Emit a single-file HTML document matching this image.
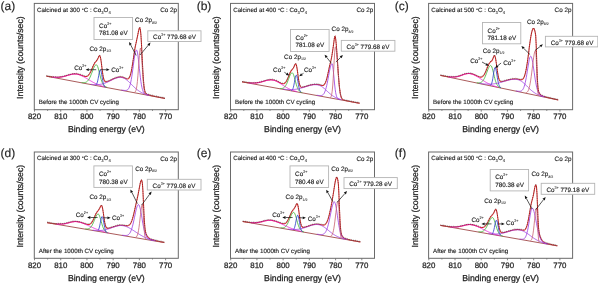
<!DOCTYPE html>
<html><head><meta charset="utf-8"><style>
html,body{margin:0;padding:0;background:#fff;width:598px;height:283px;overflow:hidden}
svg{position:absolute;left:0;top:0;will-change:transform;filter:blur(0.3px)}
text{text-rendering:geometricPrecision;font-family:"Liberation Sans",sans-serif;fill:#262626;stroke:#262626;stroke-width:0.15px}
.ss{fill:#1a1a1a;stroke:#1a1a1a;stroke-width:0.06px}
</style></head><body>
<svg width="598" height="283" viewBox="0 0 598 283">
<polyline points="46.4,76.13 46.9,76.21 47.4,76.30 47.9,76.38 48.4,76.46 48.9,76.54 49.4,76.62 49.9,76.69 50.4,76.76 50.9,76.83 51.4,76.90 51.9,76.96 52.4,77.02 52.9,77.07 53.4,77.12 53.9,77.17 54.4,77.20 54.9,77.24 55.4,77.26 55.9,77.28 56.5,77.29 57.0,77.29 57.5,77.29 58.0,77.28 58.5,77.26 59.0,77.23 59.5,77.19 60.0,77.14 60.5,77.08 61.0,77.01 61.5,76.93 62.0,76.84 62.5,76.75 63.0,76.64 63.5,76.53 64.0,76.40 64.5,76.27 65.0,76.14 65.5,76.00 66.0,75.85 66.5,75.70 67.0,75.55 67.5,75.39 68.0,75.24 68.5,75.08 69.0,74.93 69.5,74.79 70.0,74.65 70.5,74.51 71.0,74.39 71.5,74.28 72.0,74.18 72.5,74.09 73.0,74.02 73.5,73.96 74.0,73.92 74.5,73.90 75.0,73.89 75.5,73.91 76.0,73.95 76.6,74.01 77.1,74.08 77.6,74.18 78.1,74.29 78.6,74.41 79.1,74.55 79.6,74.70 80.1,74.86 80.6,75.03 81.1,75.21 81.6,75.40 82.1,75.59 82.6,75.77 83.1,75.95 83.6,76.12 84.1,76.27 84.6,76.39 85.1,76.48 85.6,76.51 86.1,76.50 86.6,76.41 87.1,76.23 87.6,75.97 88.1,75.60 88.6,75.11 89.1,74.51 89.6,73.78 90.1,72.94 90.6,71.99 91.1,70.93 91.6,69.81 92.1,68.64 92.6,67.45 93.1,66.28 93.6,65.17 94.1,64.17 94.6,63.28 95.1,62.54 95.6,61.90 96.2,61.29 96.7,60.61 97.2,59.90 97.7,59.05 98.2,57.99 98.7,56.84 99.2,55.92 99.7,55.70 100.2,56.56 100.7,58.70 101.2,61.99 101.7,65.98 102.2,70.10 102.7,73.83 103.2,76.83 103.7,79.01 104.2,80.43 104.7,81.27 105.2,81.69 105.7,81.86 106.2,81.87 106.7,81.80 107.2,81.67 107.7,81.50 108.2,81.31 108.7,81.11 109.2,80.89 109.7,80.67 110.2,80.43 110.7,80.19 111.2,79.95 111.7,79.71 112.2,79.47 112.7,79.23 113.2,79.00 113.7,78.77 114.2,78.55 114.7,78.34 115.2,78.14 115.8,77.96 116.3,77.78 116.8,77.63 117.3,77.49 117.8,77.37 118.3,77.26 118.8,77.18 119.3,77.12 119.8,77.09 120.3,77.07 120.8,77.08 121.3,77.12 121.8,77.18 122.3,77.26 122.8,77.37 123.3,77.52 123.8,77.69 124.3,77.89 124.8,78.11 125.3,78.33 125.8,78.55 126.3,78.75 126.8,78.90 127.3,78.98 127.8,78.94 128.3,78.75 128.8,78.35 129.3,77.69 129.8,76.72 130.3,75.37 130.8,73.62 131.3,71.46 131.8,68.88 132.3,65.93 132.8,62.69 133.3,59.28 133.8,55.83 134.3,52.49 134.8,49.37 135.3,46.55 135.9,44.00 136.4,41.59 136.9,39.19 137.4,36.89 137.9,34.48 138.4,31.92 138.9,29.53 139.4,27.90 139.9,27.83 140.4,29.97 140.9,34.86 141.4,42.73 141.9,52.54 142.4,62.82 142.9,72.21 143.4,79.83 143.9,85.40 144.4,89.11 144.9,91.39 145.4,92.72 145.9,93.49 146.4,93.94 146.9,94.23 147.4,94.46 147.9,94.64 148.4,94.81 148.9,94.97 149.4,95.11 149.9,95.25 150.4,95.39 150.9,95.52 151.4,95.64 151.9,95.77 152.4,95.89 152.9,96.00 153.4,96.12 153.9,96.23 154.4,96.34 154.9,96.44 155.5,96.55 156.0,96.65 156.5,96.76 157.0,96.86 157.5,96.96 158.0,97.06 158.5,97.17 159.0,97.27 159.5,97.36 160.0,97.46 160.5,97.56 161.0,97.66 161.5,97.76 162.0,97.86 162.5,97.95 163.0,98.05 163.5,98.15 164.0,98.25 164.5,98.34 165.0,98.44" fill="none" stroke="#e83434" stroke-width="1.05"/>
<line x1="46.40" y1="76.20" x2="165.00" y2="98.50" stroke="#a04848" stroke-width="0.9"/>
<polyline points="52.4,77.06 52.9,77.11 53.4,77.16 53.9,77.20 54.4,77.24 54.9,77.28 55.4,77.30 55.9,77.32 56.5,77.33 57.0,77.34 57.5,77.34 58.0,77.32 58.5,77.30 59.0,77.27 59.5,77.24 60.0,77.19 60.5,77.13 61.0,77.06 61.5,76.99 62.0,76.90 62.5,76.81 63.0,76.70 63.5,76.59 64.0,76.47 64.5,76.34 65.0,76.21 65.5,76.07 66.0,75.92 66.5,75.77 67.0,75.62 67.5,75.47 68.0,75.32 68.5,75.17 69.0,75.02 69.5,74.87 70.0,74.74 70.5,74.61 71.0,74.49 71.5,74.38 72.0,74.28 72.5,74.20 73.0,74.13 73.5,74.08 74.0,74.04 74.5,74.02 75.0,74.03 75.5,74.05 76.0,74.09 76.6,74.16 77.1,74.24 77.6,74.35 78.1,74.47 78.6,74.60 79.1,74.75 79.6,74.92 80.1,75.10 80.6,75.29 81.1,75.50 81.6,75.72 82.1,75.95 82.6,76.19 83.1,76.44 83.6,76.71 84.1,76.98 84.6,77.25 85.1,77.54 85.6,77.83 86.1,78.13 86.6,78.43 87.1,78.73 87.6,79.03 88.1,79.34 88.6,79.64 89.1,79.95 89.6,80.25 90.1,80.55 90.6,80.85 91.1,81.14 91.6,81.43 92.1,81.72 92.6,82.00 93.1,82.27 93.6,82.54 94.1,82.80 94.6,83.05 95.1,83.30 95.6,83.55 96.2,83.78 96.7,84.01 97.2,84.23 97.7,84.44 98.2,84.65 98.7,84.85 99.2,85.04 99.7,85.23 100.2,85.41 100.7,85.59 101.2,85.76 101.7,85.92 102.2,86.08 102.7,86.23 103.2,86.38 103.7,86.53 104.2,86.67 104.7,86.80 105.2,86.94 105.7,87.07 106.2,87.19" fill="none" stroke="#e818d8" stroke-width="0.8"/>
<polyline points="81.6,82.54 82.1,82.59 82.6,82.63 83.1,82.66 83.6,82.67 84.1,82.64 84.6,82.59 85.1,82.49 85.6,82.35 86.1,82.14 86.6,81.85 87.1,81.49 87.6,81.03 88.1,80.47 88.6,79.79 89.1,79.00 89.6,78.09 90.1,77.07 90.6,75.94 91.1,74.73 91.6,73.44 92.1,72.12 92.6,70.80 93.1,69.50 93.6,68.29 94.1,67.19 94.6,66.26 95.1,65.54 95.6,65.05 96.2,64.84 96.7,64.94 97.2,65.54 97.7,66.63 98.2,68.13 98.7,69.94 99.2,71.93 99.7,73.98 100.2,76.01 100.7,77.93 101.2,79.68 101.7,81.21 102.2,82.53 102.7,83.62 103.2,84.51 103.7,85.22 104.2,85.77 104.7,86.21 105.2,86.55 105.7,86.81 106.2,87.03 106.7,87.21 107.2,87.36" fill="none" stroke="#38b030" stroke-width="0.8"/>
<polyline points="95.6,85.07 96.2,84.72 96.7,84.01 97.2,82.78 97.7,80.92 98.2,78.46 98.7,75.63 99.2,72.87 99.7,70.74 100.2,69.75 100.7,70.16 101.2,71.91 101.7,74.59 102.2,77.63 102.7,80.53 103.2,82.92 103.7,84.68 104.2,85.85 104.7,86.57 105.2,86.99" fill="none" stroke="#2838c8" stroke-width="0.8"/>
<polyline points="90.6,84.26 91.1,84.32 91.6,84.38 92.1,84.43 92.6,84.48 93.1,84.52 93.6,84.56 94.1,84.59 94.6,84.61 95.1,84.63 95.6,84.64 96.2,84.65 96.7,84.65 97.2,84.63 97.7,84.61 98.2,84.58 98.7,84.55 99.2,84.50 99.7,84.44 100.2,84.37 100.7,84.29 101.2,84.20 101.7,84.09 102.2,83.98 102.7,83.85 103.2,83.71 103.7,83.56 104.2,83.40 104.7,83.23 105.2,83.05 105.7,82.86 106.2,82.65 106.7,82.44 107.2,82.22 107.7,81.99 108.2,81.75 108.7,81.51 109.2,81.26 109.7,81.01 110.2,80.76 110.7,80.50 111.2,80.25 111.7,79.99 112.2,79.74 112.7,79.49 113.2,79.25 113.7,79.02 114.2,78.80 114.7,78.58 115.2,78.38 115.8,78.19 116.3,78.02 116.8,77.87 117.3,77.73 117.8,77.61 118.3,77.52 118.8,77.44 119.3,77.39 119.8,77.37 120.3,77.36 120.8,77.38 121.3,77.43 121.8,77.51 122.3,77.61 122.8,77.74 123.3,77.92 123.8,78.12 124.3,78.37 124.8,78.64 125.3,78.95 125.8,79.28 126.3,79.65 126.8,80.04 127.3,80.45 127.8,80.88 128.3,81.33 128.8,81.80 129.3,82.28 129.8,82.77 130.3,83.27 130.8,83.78 131.3,84.28 131.8,84.79 132.3,85.30 132.8,85.80 133.3,86.29 133.8,86.78 134.3,87.26 134.8,87.73 135.3,88.19 135.9,88.63 136.4,89.06 136.9,89.47 137.4,89.87 137.9,90.25 138.4,90.62 138.9,90.97 139.4,91.30 139.9,91.62 140.4,91.92 140.9,92.21 141.4,92.48 141.9,92.74 142.4,92.99 142.9,93.22 143.4,93.44 143.9,93.65 144.4,93.84 144.9,94.03 145.4,94.21 145.9,94.38 146.4,94.54 146.9,94.70 147.4,94.84 147.9,94.98 148.4,95.12" fill="none" stroke="#9a38e0" stroke-width="0.8"/>
<polyline points="121.3,90.01 121.8,90.09 122.3,90.17 122.8,90.24 123.3,90.30 123.8,90.36 124.3,90.41 124.8,90.44 125.3,90.45 125.8,90.43 126.3,90.36 126.8,90.21 127.3,89.97 127.8,89.60 128.3,89.05 128.8,88.28 129.3,87.23 129.8,85.85 130.3,84.11 130.8,81.95 131.3,79.37 131.8,76.37 132.3,73.02 132.8,69.38 133.3,65.60 133.8,61.82 134.3,58.24 134.8,55.07 135.3,52.53 135.9,50.79 136.4,50.02 136.9,50.37 137.4,52.16 137.9,55.22 138.4,59.22 138.9,63.80 139.4,68.60 139.9,73.30 140.4,77.64 140.9,81.46 141.4,84.68 141.9,87.29 142.4,89.32 142.9,90.86 143.4,91.99 143.9,92.80 144.4,93.39 144.9,93.80 145.4,94.11 145.9,94.34 146.4,94.53 146.9,94.69 147.4,94.83 147.9,94.96 148.4,95.08 148.9,95.20 149.4,95.32" fill="none" stroke="#9a38e0" stroke-width="0.8"/>
<polyline points="134.3,92.48 134.8,92.25 135.3,91.71 135.9,90.64 136.4,88.76 136.9,85.78 137.4,81.48 137.9,75.82 138.4,69.09 138.9,61.94 139.4,55.38 139.9,50.48 140.4,48.17 140.9,49.13 141.4,53.70 141.9,60.83 142.4,69.02 142.9,76.83 143.4,83.29 143.9,88.03 144.4,91.14 144.9,93.01 145.4,94.05 145.9,94.59" fill="none" stroke="#c86070" stroke-width="0.8"/>
<polyline points="46.4,75.37 46.9,75.70 47.4,75.95 47.9,75.77 48.4,75.85 48.9,75.95 49.4,76.17 49.9,76.34 50.4,76.15 50.9,76.35 51.4,76.58 51.9,76.62 52.4,76.41 52.9,76.28 53.4,76.61 53.9,76.68 54.4,76.59 54.9,76.56 55.4,76.62 55.9,76.59 56.5,76.80 57.0,76.93 57.5,76.97 58.0,76.62 58.5,76.85 59.0,76.81 59.5,76.74 60.0,76.45 60.5,76.58 61.0,76.56 61.5,76.51 62.0,76.54 62.5,76.21 63.0,75.85 63.5,76.09 64.0,76.02 64.5,75.64 65.0,75.71 65.5,75.67 66.0,75.52 66.5,75.27 67.0,75.12 67.5,74.67 68.0,74.91 68.5,74.30 69.0,74.31 69.5,74.18 70.0,74.09 70.5,74.20 71.0,73.86 71.5,73.87 72.0,73.75 72.5,73.76 73.0,73.68 73.5,73.65 74.0,73.17 74.5,73.49 75.0,73.36 75.5,73.59 76.0,73.64 76.6,73.32 77.1,73.72 77.6,73.39 78.1,73.95 78.6,73.99 79.1,73.98 79.6,73.94 80.1,74.42 80.6,74.29 81.1,74.57 81.6,74.92 82.1,74.98 82.6,75.04 83.1,75.29 83.6,75.44 84.1,75.94 84.6,75.76 85.1,76.02 85.6,76.14 86.1,75.73 86.6,76.01 87.1,75.76 87.6,75.57 88.1,74.86 88.6,74.36 89.1,74.12 89.6,73.28 90.1,72.19 90.6,71.55 91.1,70.44 91.6,69.25 92.1,68.19 92.6,66.78 93.1,65.65 93.6,64.65 94.1,63.60 94.6,62.53 95.1,61.76 95.6,61.31 96.2,60.93 96.7,60.21 97.2,59.55 97.7,58.35 98.2,57.52 98.7,56.05 99.2,55.43 99.7,55.21 100.2,55.91 100.7,58.34 101.2,61.31 101.7,65.32 102.2,69.70 102.7,73.40 103.2,76.31 103.7,78.23 104.2,79.89 104.7,80.65 105.2,81.27 105.7,81.15 106.2,81.26 106.7,81.25 107.2,81.30 107.7,80.80 108.2,80.91 108.7,80.73 109.2,80.23 109.7,80.17 110.2,79.68 110.7,79.63 111.2,79.51 111.7,79.20 112.2,78.75 112.7,78.57 113.2,78.66 113.7,78.42 114.2,78.09 114.7,78.01 115.2,77.52 115.8,77.17 116.3,77.26 116.8,76.94 117.3,77.01 117.8,76.58 118.3,76.52 118.8,76.83 119.3,76.34 119.8,76.40 120.3,76.37 120.8,76.36 121.3,76.81 121.8,76.66 122.3,76.47 122.8,77.01 123.3,76.80 123.8,76.95 124.3,77.37 124.8,77.73 125.3,77.80 125.8,77.99 126.3,78.34 126.8,78.31 127.3,78.36 127.8,78.30 128.3,78.21 128.8,77.58 129.3,77.37 129.8,76.07 130.3,74.62 130.8,73.04 131.3,70.85 131.8,68.13 132.3,65.27 132.8,62.02 133.3,58.94 133.8,55.48 134.3,51.84 134.8,48.68 135.3,45.89 135.9,43.22 136.4,40.91 136.9,38.63 137.4,36.46 137.9,34.00 138.4,31.14 138.9,29.09 139.4,27.59 139.9,27.24 140.4,29.67 140.9,34.12 141.4,42.12 141.9,52.09 142.4,62.45 142.9,71.82 143.4,79.03 143.9,85.08 144.4,88.61 144.9,90.84 145.4,92.38 145.9,93.16 146.4,93.34 146.9,93.77 147.4,93.85 147.9,94.01 148.4,94.18 148.9,94.20 149.4,94.79 149.9,94.55 150.4,94.85 150.9,94.81 151.4,95.30 151.9,95.05 152.4,95.21 152.9,95.23 153.4,95.59 153.9,95.81 154.4,96.02 154.9,96.07 155.5,95.78 156.0,96.15 156.5,95.99 157.0,96.45 157.5,96.34 158.0,96.58 158.5,96.75 159.0,96.68 159.5,96.71 160.0,96.78 160.5,97.05 161.0,97.26 161.5,96.99 162.0,97.16 162.5,97.34 163.0,97.41 163.5,97.39 164.0,97.71 164.5,97.98 165.0,97.92" fill="none" stroke="#1a1a1a" stroke-width="0.6" stroke-dasharray="1.4 0.9" opacity="0.75"/>
<rect x="34.30" y="3.40" width="144.0" height="106.3" fill="none" stroke="#6a6a6a" stroke-width="1"/>
<line x1="34.50" y1="109.70" x2="34.50" y2="111.70" stroke="#6a6a6a" stroke-width="0.8"/>
<text x="34.50" y="119.40" font-size="7.9" text-anchor="middle" style="stroke-width:0.25px">820</text>
<line x1="47.61" y1="109.70" x2="47.61" y2="110.90" stroke="#6a6a6a" stroke-width="0.8"/>
<line x1="60.72" y1="109.70" x2="60.72" y2="111.70" stroke="#6a6a6a" stroke-width="0.8"/>
<text x="60.72" y="119.40" font-size="7.9" text-anchor="middle" style="stroke-width:0.25px">810</text>
<line x1="73.83" y1="109.70" x2="73.83" y2="110.90" stroke="#6a6a6a" stroke-width="0.8"/>
<line x1="86.94" y1="109.70" x2="86.94" y2="111.70" stroke="#6a6a6a" stroke-width="0.8"/>
<text x="86.94" y="119.40" font-size="7.9" text-anchor="middle" style="stroke-width:0.25px">800</text>
<line x1="100.05" y1="109.70" x2="100.05" y2="110.90" stroke="#6a6a6a" stroke-width="0.8"/>
<line x1="113.16" y1="109.70" x2="113.16" y2="111.70" stroke="#6a6a6a" stroke-width="0.8"/>
<text x="113.16" y="119.40" font-size="7.9" text-anchor="middle" style="stroke-width:0.25px">790</text>
<line x1="126.27" y1="109.70" x2="126.27" y2="110.90" stroke="#6a6a6a" stroke-width="0.8"/>
<line x1="139.38" y1="109.70" x2="139.38" y2="111.70" stroke="#6a6a6a" stroke-width="0.8"/>
<text x="139.38" y="119.40" font-size="7.9" text-anchor="middle" style="stroke-width:0.25px">780</text>
<line x1="152.49" y1="109.70" x2="152.49" y2="110.90" stroke="#6a6a6a" stroke-width="0.8"/>
<line x1="165.60" y1="109.70" x2="165.60" y2="111.70" stroke="#6a6a6a" stroke-width="0.8"/>
<text x="165.60" y="119.40" font-size="7.9" text-anchor="middle" style="stroke-width:0.25px">770</text>
<line x1="96.20" y1="69.70" x2="88.80" y2="69.70" stroke="#111" stroke-width="0.7"/>
<polygon points="85.60,69.70 88.80,68.30 88.80,71.10" fill="#111"/>
<line x1="100.40" y1="69.70" x2="106.40" y2="69.70" stroke="#111" stroke-width="0.7"/>
<polygon points="109.60,69.70 106.40,71.10 106.40,68.30" fill="#111"/>
<line x1="136.20" y1="55.50" x2="130.58" y2="44.74" stroke="#111" stroke-width="0.7"/>
<polygon points="129.10,41.90 131.82,44.09 129.34,45.38" fill="#111"/>
<line x1="140.00" y1="55.00" x2="148.43" y2="45.04" stroke="#111" stroke-width="0.7"/>
<polygon points="150.50,42.60 149.50,45.95 147.36,44.14" fill="#111"/>
<rect x="94.00" y="17.50" width="38.60" height="22.00" fill="#fff" stroke="#b4b4b4" stroke-width="0.9"/>
<rect x="147.80" y="30.80" width="53.20" height="10.70" fill="#fff" stroke="#b4b4b4" stroke-width="0.9"/>
<polyline points="242.1,81.84 242.6,81.93 243.1,82.01 243.6,82.09 244.1,82.17 244.6,82.25 245.1,82.33 245.6,82.40 246.1,82.47 246.6,82.54 247.1,82.61 247.6,82.68 248.1,82.74 248.6,82.79 249.1,82.85 249.6,82.89 250.1,82.94 250.6,82.98 251.1,83.01 251.6,83.03 252.1,83.06 252.6,83.07 253.1,83.07 253.6,83.07 254.0,83.06 254.5,83.05 255.0,83.02 255.5,82.98 256.0,82.94 256.5,82.89 257.0,82.83 257.5,82.75 258.0,82.67 258.5,82.58 259.0,82.49 259.5,82.38 260.0,82.27 260.5,82.14 261.0,82.02 261.5,81.88 262.0,81.75 262.5,81.60 263.0,81.46 263.5,81.31 264.0,81.16 264.5,81.02 265.0,80.87 265.5,80.73 266.0,80.60 266.5,80.47 267.0,80.35 267.5,80.24 268.0,80.14 268.5,80.05 269.0,79.98 269.5,79.92 270.0,79.87 270.5,79.85 271.0,79.84 271.5,79.85 272.0,79.88 272.5,79.92 273.0,79.99 273.5,80.08 274.0,80.19 274.5,80.32 275.0,80.47 275.5,80.63 276.0,80.82 276.5,81.03 277.0,81.25 277.4,81.48 277.9,81.72 278.4,81.98 278.9,82.24 279.4,82.50 279.9,82.76 280.4,83.00 280.9,83.24 281.4,83.44 281.9,83.61 282.4,83.73 282.9,83.80 283.4,83.78 283.9,83.67 284.4,83.45 284.9,83.11 285.4,82.63 285.9,82.01 286.4,81.24 286.9,80.33 287.4,79.29 287.9,78.14 288.4,76.92 288.9,75.67 289.4,74.44 289.9,73.27 290.4,72.23 290.9,71.33 291.4,70.58 291.9,69.95 292.4,69.35 292.9,68.76 293.4,68.05 293.9,67.10 294.4,65.93 294.9,64.75 295.4,63.95 295.9,64.00 296.4,65.20 296.9,67.61 297.4,70.95 297.9,74.73 298.4,78.41 298.9,81.55 299.4,83.94 299.9,85.58 300.4,86.58 300.9,87.12 301.3,87.36 301.8,87.42 302.3,87.38 302.8,87.29 303.3,87.17 303.8,87.04 304.3,86.90 304.8,86.75 305.3,86.60 305.8,86.44 306.3,86.29 306.8,86.14 307.3,85.98 307.8,85.83 308.3,85.68 308.8,85.54 309.3,85.40 309.8,85.27 310.3,85.15 310.8,85.03 311.3,84.92 311.8,84.82 312.3,84.74 312.8,84.66 313.3,84.59 313.8,84.54 314.3,84.50 314.8,84.47 315.3,84.46 315.8,84.46 316.3,84.47 316.8,84.50 317.3,84.54 317.8,84.59 318.3,84.65 318.8,84.74 319.3,84.86 319.8,84.99 320.3,85.13 320.8,85.28 321.3,85.41 321.8,85.51 322.3,85.57 322.8,85.54 323.3,85.42 323.8,85.16 324.3,84.72 324.7,84.09 325.2,83.22 325.7,82.09 326.2,80.70 326.7,79.03 327.2,77.11 327.7,74.97 328.2,72.68 328.7,70.31 329.2,67.95 329.7,65.67 330.2,63.53 330.7,61.51 331.2,59.45 331.7,57.03 332.2,53.85 332.7,50.60 333.2,47.26 333.7,43.50 334.2,39.67 334.7,36.83 335.2,36.37 335.7,39.20 336.2,43.95 336.7,50.07 337.2,57.18 337.7,64.74 338.2,72.16 338.7,78.95 339.2,84.74 339.7,89.39 340.2,92.91 340.7,95.44 341.2,97.17 341.7,98.31 342.2,99.05 342.7,99.52 343.2,99.83 343.7,100.05 344.2,100.21 344.7,100.35 345.2,100.47 345.7,100.59 346.2,100.70 346.7,100.81 347.2,100.91 347.7,101.01 348.1,101.11 348.6,101.21 349.1,101.31 349.6,101.41 350.1,101.51 350.6,101.60 351.1,101.70 351.6,101.79 352.1,101.89 352.6,101.98 353.1,102.07 353.6,102.17 354.1,102.26 354.6,102.35 355.1,102.44 355.6,102.54 356.1,102.63 356.6,102.72 357.1,102.81 357.6,102.91 358.1,103.00 358.6,103.09 359.1,103.18 359.6,103.27" fill="none" stroke="#e83434" stroke-width="1.05"/>
<line x1="242.10" y1="81.90" x2="359.60" y2="103.30" stroke="#a04848" stroke-width="0.9"/>
<polyline points="248.6,82.82 249.1,82.87 249.6,82.92 250.1,82.97 250.6,83.01 251.1,83.04 251.6,83.07 252.1,83.09 252.6,83.10 253.1,83.11 253.6,83.11 254.0,83.10 254.5,83.08 255.0,83.06 255.5,83.02 256.0,82.98 256.5,82.93 257.0,82.86 257.5,82.79 258.0,82.71 258.5,82.63 259.0,82.53 259.5,82.42 260.0,82.31 260.5,82.19 261.0,82.07 261.5,81.93 262.0,81.80 262.5,81.66 263.0,81.51 263.5,81.37 264.0,81.22 264.5,81.08 265.0,80.94 265.5,80.80 266.0,80.67 266.5,80.54 267.0,80.42 267.5,80.31 268.0,80.22 268.5,80.13 269.0,80.06 269.5,80.01 270.0,79.97 270.5,79.95 271.0,79.94 271.5,79.96 272.0,79.99 272.5,80.05 273.0,80.12 273.5,80.22 274.0,80.34 274.5,80.48 275.0,80.64 275.5,80.82 276.0,81.02 276.5,81.24 277.0,81.48 277.4,81.73 277.9,82.00 278.4,82.28 278.9,82.58 279.4,82.88 279.9,83.20 280.4,83.52 280.9,83.85 281.4,84.18 281.9,84.51 282.4,84.85 282.9,85.18 283.4,85.52 283.9,85.85 284.4,86.17 284.9,86.49 285.4,86.80 285.9,87.11 286.4,87.41 286.9,87.70 287.4,87.98 287.9,88.25 288.4,88.51 288.9,88.76 289.4,89.01 289.9,89.24 290.4,89.46 290.9,89.67 291.4,89.88 291.9,90.07 292.4,90.26 292.9,90.44 293.4,90.61 293.9,90.77 294.4,90.93 294.9,91.08 295.4,91.22 295.9,91.36 296.4,91.49 296.9,91.62" fill="none" stroke="#e818d8" stroke-width="0.8"/>
<polyline points="279.9,88.50 280.4,88.54 280.9,88.55 281.4,88.53 281.9,88.48 282.4,88.39 282.9,88.23 283.4,88.00 283.9,87.68 284.4,87.27 284.9,86.73 285.4,86.07 285.9,85.28 286.4,84.35 286.9,83.29 287.4,82.12 287.9,80.85 288.4,79.53 288.9,78.19 289.4,76.88 289.9,75.67 290.4,74.60 290.9,73.74 291.4,73.14 291.9,72.85 292.4,72.88 292.9,73.40 293.4,74.39 293.9,75.77 294.4,77.44 294.9,79.28 295.4,81.17 295.9,83.01 296.4,84.74 296.9,86.29 297.4,87.64 297.9,88.77 298.4,89.69 298.9,90.43 299.4,91.01 299.9,91.46 300.4,91.81 300.9,92.08 301.3,92.30 301.8,92.47 302.3,92.62" fill="none" stroke="#38b030" stroke-width="0.8"/>
<polyline points="291.4,90.60 291.9,90.36 292.4,89.82 292.9,88.84 293.4,87.28 293.9,85.10 294.4,82.42 294.9,79.58 295.4,77.08 295.9,75.48 296.4,75.18 296.9,76.26 297.4,78.50 297.9,81.39 298.4,84.40 298.9,87.07 299.4,89.17 299.9,90.64 300.4,91.60 300.9,92.17" fill="none" stroke="#2838c8" stroke-width="0.8"/>
<polyline points="282.9,89.08 283.4,89.14 283.9,89.20 284.4,89.26 284.9,89.31 285.4,89.36 285.9,89.41 286.4,89.45 286.9,89.49 287.4,89.53 287.9,89.56 288.4,89.58 288.9,89.60 289.4,89.62 289.9,89.63 290.4,89.63 290.9,89.63 291.4,89.63 291.9,89.61 292.4,89.59 292.9,89.57 293.4,89.54 293.9,89.50 294.4,89.45 294.9,89.40 295.4,89.34 295.9,89.27 296.4,89.19 296.9,89.11 297.4,89.02 297.9,88.92 298.4,88.82 298.9,88.71 299.4,88.59 299.9,88.47 300.4,88.34 300.9,88.21 301.3,88.07 301.8,87.92 302.3,87.77 302.8,87.62 303.3,87.47 303.8,87.31 304.3,87.15 304.8,86.98 305.3,86.82 305.8,86.66 306.3,86.50 306.8,86.34 307.3,86.18 307.8,86.03 308.3,85.88 308.8,85.74 309.3,85.60 309.8,85.47 310.3,85.34 310.8,85.23 311.3,85.12 311.8,85.03 312.3,84.94 312.8,84.87 313.3,84.81 313.8,84.76 314.3,84.73 314.8,84.71 315.3,84.71 315.8,84.72 316.3,84.74 316.8,84.78 317.3,84.84 317.8,84.92 318.3,85.01 318.8,85.13 319.3,85.29 319.8,85.48 320.3,85.71 320.8,85.97 321.3,86.25 321.8,86.57 322.3,86.91 322.8,87.28 323.3,87.67 323.8,88.08 324.3,88.50 324.7,88.94 325.2,89.39 325.7,89.84 326.2,90.31 326.7,90.77 327.2,91.23 327.7,91.70 328.2,92.15 328.7,92.60 329.2,93.05 329.7,93.48 330.2,93.90 330.7,94.31 331.2,94.70 331.7,95.08 332.2,95.45 332.7,95.80 333.2,96.13 333.7,96.45 334.2,96.75 334.7,97.04 335.2,97.31 335.7,97.57 336.2,97.81 336.7,98.04 337.2,98.26 337.7,98.47 338.2,98.66 338.7,98.85 339.2,99.02 339.7,99.18 340.2,99.34 340.7,99.49 341.2,99.63 341.7,99.77" fill="none" stroke="#9a38e0" stroke-width="0.8"/>
<polyline points="316.8,95.25 317.3,95.32 317.8,95.39 318.3,95.45 318.8,95.51 319.3,95.55 319.8,95.58 320.3,95.59 320.8,95.57 321.3,95.50 321.8,95.38 322.3,95.18 322.8,94.88 323.3,94.45 323.8,93.87 324.3,93.11 324.7,92.12 325.2,90.89 325.7,89.40 326.2,87.63 326.7,85.59 327.2,83.30 327.7,80.79 328.2,78.14 328.7,75.41 329.2,72.72 329.7,70.17 330.2,67.90 330.7,66.02 331.2,64.66 331.7,63.89 332.2,63.83 332.7,65.63 333.2,69.43 333.7,74.47 334.2,79.91 334.7,85.04 335.2,89.38 335.7,92.75 336.2,95.16 336.7,96.77 337.2,97.79 337.7,98.41 338.2,98.80 338.7,99.05 339.2,99.24 339.7,99.38 340.2,99.51" fill="none" stroke="#9a38e0" stroke-width="0.8"/>
<polyline points="330.2,97.64 330.7,97.27 331.2,96.36 331.7,94.51 332.2,91.21 332.7,85.99 333.2,78.70 333.7,69.76 334.2,60.36 334.7,52.29 335.2,47.40 335.7,46.79 336.2,49.07 336.7,53.53 337.2,59.58 337.7,66.49 338.2,73.51 338.7,80.04 339.2,85.66 339.7,90.18 340.2,93.60 340.7,96.04 341.2,97.70 341.7,98.77 342.2,99.45 342.7,99.87" fill="none" stroke="#c86070" stroke-width="0.8"/>
<polyline points="242.1,81.36 242.6,81.53 243.1,81.33 243.6,81.33 244.1,81.70 244.6,81.72 245.1,81.64 245.6,81.65 246.1,82.04 246.6,81.79 247.1,82.28 247.6,82.35 248.1,82.28 248.6,82.27 249.1,82.10 249.6,82.49 250.1,82.17 250.6,82.62 251.1,82.62 251.6,82.61 252.1,82.59 252.6,82.66 253.1,82.48 253.6,82.77 254.0,82.52 254.5,82.32 255.0,82.49 255.5,82.66 256.0,82.56 256.5,82.26 257.0,82.25 257.5,82.41 258.0,82.27 258.5,81.86 259.0,81.88 259.5,81.99 260.0,81.92 260.5,81.60 261.0,81.47 261.5,81.18 262.0,81.30 262.5,81.25 263.0,81.14 263.5,80.87 264.0,80.66 264.5,80.62 265.0,80.43 265.5,80.34 266.0,79.99 266.5,79.71 267.0,80.02 267.5,79.57 268.0,79.70 268.5,79.53 269.0,79.19 269.5,79.21 270.0,79.41 270.5,79.32 271.0,79.48 271.5,79.34 272.0,79.38 272.5,79.13 273.0,79.35 273.5,79.63 274.0,79.78 274.5,79.71 275.0,79.91 275.5,80.10 276.0,80.07 276.5,80.26 277.0,80.48 277.4,81.07 277.9,81.28 278.4,81.40 278.9,81.58 279.4,81.88 279.9,82.38 280.4,82.34 280.9,82.91 281.4,82.99 281.9,82.94 282.4,83.11 282.9,83.30 283.4,83.43 283.9,83.21 284.4,82.76 284.9,82.44 285.4,82.05 285.9,81.56 286.4,80.49 286.9,80.00 287.4,78.59 287.9,77.60 288.4,76.60 288.9,75.33 289.4,73.88 289.9,72.56 290.4,71.64 290.9,70.71 291.4,70.20 291.9,69.26 292.4,68.64 292.9,67.99 293.4,67.66 293.9,66.74 294.4,65.15 294.9,64.04 295.4,63.47 295.9,63.52 296.4,64.51 296.9,67.29 297.4,70.36 297.9,74.19 298.4,77.82 298.9,81.16 299.4,83.36 299.9,85.11 300.4,86.12 300.9,86.51 301.3,86.93 301.8,87.01 302.3,86.65 302.8,86.80 303.3,86.54 303.8,86.42 304.3,86.48 304.8,86.29 305.3,86.02 305.8,85.86 306.3,85.94 306.8,85.75 307.3,85.20 307.8,85.50 308.3,85.20 308.8,85.24 309.3,85.08 309.8,84.52 310.3,84.39 310.8,84.61 311.3,84.54 311.8,84.31 312.3,84.34 312.8,84.24 313.3,84.00 313.8,84.13 314.3,83.87 314.8,83.75 315.3,83.86 315.8,83.69 316.3,83.72 316.8,83.86 317.3,83.79 317.8,84.24 318.3,84.03 318.8,84.19 319.3,84.33 319.8,84.28 320.3,84.68 320.8,84.87 321.3,84.66 321.8,84.99 322.3,85.01 322.8,85.16 323.3,84.89 323.8,84.71 324.3,83.97 324.7,83.35 325.2,82.64 325.7,81.51 326.2,80.00 326.7,78.54 327.2,76.71 327.7,74.66 328.2,72.15 328.7,69.90 329.2,67.15 329.7,65.03 330.2,63.19 330.7,61.10 331.2,58.91 331.7,56.59 332.2,53.45 332.7,49.85 333.2,46.68 333.7,42.95 334.2,39.08 334.7,36.16 335.2,36.06 335.7,38.71 336.2,43.39 336.7,49.70 337.2,56.42 337.7,64.03 338.2,71.75 338.7,78.19 339.2,84.11 339.7,88.95 340.2,92.24 340.7,94.74 341.2,96.52 341.7,97.72 342.2,98.55 342.7,99.04 343.2,99.42 343.7,99.63 344.2,99.56 344.7,99.95 345.2,99.79 345.7,99.84 346.2,100.01 346.7,100.25 347.2,100.28 347.7,100.33 348.1,100.44 348.6,100.55 349.1,100.74 349.6,100.72 350.1,100.75 350.6,100.84 351.1,101.03 351.6,101.12 352.1,101.26 352.6,101.39 353.1,101.29 353.6,101.66 354.1,101.65 354.6,101.67 355.1,101.69 355.6,102.02 356.1,102.09 356.6,102.00 357.1,102.45 357.6,102.24 358.1,102.29 358.6,102.29 359.1,102.45 359.6,102.67" fill="none" stroke="#1a1a1a" stroke-width="0.6" stroke-dasharray="1.4 0.9" opacity="0.75"/>
<rect x="230.50" y="3.40" width="144.0" height="106.3" fill="none" stroke="#6a6a6a" stroke-width="1"/>
<line x1="230.70" y1="109.70" x2="230.70" y2="111.70" stroke="#6a6a6a" stroke-width="0.8"/>
<text x="230.70" y="119.40" font-size="7.9" text-anchor="middle" style="stroke-width:0.25px">820</text>
<line x1="243.81" y1="109.70" x2="243.81" y2="110.90" stroke="#6a6a6a" stroke-width="0.8"/>
<line x1="256.92" y1="109.70" x2="256.92" y2="111.70" stroke="#6a6a6a" stroke-width="0.8"/>
<text x="256.92" y="119.40" font-size="7.9" text-anchor="middle" style="stroke-width:0.25px">810</text>
<line x1="270.03" y1="109.70" x2="270.03" y2="110.90" stroke="#6a6a6a" stroke-width="0.8"/>
<line x1="283.14" y1="109.70" x2="283.14" y2="111.70" stroke="#6a6a6a" stroke-width="0.8"/>
<text x="283.14" y="119.40" font-size="7.9" text-anchor="middle" style="stroke-width:0.25px">800</text>
<line x1="296.25" y1="109.70" x2="296.25" y2="110.90" stroke="#6a6a6a" stroke-width="0.8"/>
<line x1="309.36" y1="109.70" x2="309.36" y2="111.70" stroke="#6a6a6a" stroke-width="0.8"/>
<text x="309.36" y="119.40" font-size="7.9" text-anchor="middle" style="stroke-width:0.25px">790</text>
<line x1="322.47" y1="109.70" x2="322.47" y2="110.90" stroke="#6a6a6a" stroke-width="0.8"/>
<line x1="335.58" y1="109.70" x2="335.58" y2="111.70" stroke="#6a6a6a" stroke-width="0.8"/>
<text x="335.58" y="119.40" font-size="7.9" text-anchor="middle" style="stroke-width:0.25px">780</text>
<line x1="348.69" y1="109.70" x2="348.69" y2="110.90" stroke="#6a6a6a" stroke-width="0.8"/>
<line x1="361.80" y1="109.70" x2="361.80" y2="111.70" stroke="#6a6a6a" stroke-width="0.8"/>
<text x="361.80" y="119.40" font-size="7.9" text-anchor="middle" style="stroke-width:0.25px">770</text>
<line x1="284.40" y1="72.30" x2="286.62" y2="73.75" stroke="#111" stroke-width="0.7"/>
<polygon points="289.30,75.50 285.86,74.92 287.39,72.58" fill="#111"/>
<line x1="303.50" y1="73.30" x2="301.85" y2="74.41" stroke="#111" stroke-width="0.7"/>
<polygon points="299.20,76.20 301.07,73.25 302.64,75.57" fill="#111"/>
<line x1="331.30" y1="63.20" x2="326.58" y2="57.21" stroke="#111" stroke-width="0.7"/>
<polygon points="324.60,54.70 327.68,56.35 325.48,58.08" fill="#111"/>
<line x1="336.00" y1="62.10" x2="340.67" y2="57.29" stroke="#111" stroke-width="0.7"/>
<polygon points="342.90,55.00 341.67,58.27 339.67,56.32" fill="#111"/>
<rect x="290.50" y="29.50" width="38.60" height="22.00" fill="#fff" stroke="#b4b4b4" stroke-width="0.9"/>
<rect x="341.30" y="40.40" width="53.60" height="10.80" fill="#fff" stroke="#b4b4b4" stroke-width="0.9"/>
<polyline points="440.4,75.36 440.9,75.46 441.4,75.56 441.9,75.66 442.4,75.76 442.9,75.85 443.4,75.95 443.9,76.04 444.4,76.14 444.9,76.23 445.4,76.32 445.9,76.40 446.4,76.48 446.9,76.56 447.4,76.64 447.9,76.71 448.4,76.78 448.9,76.84 449.4,76.90 449.9,76.94 450.4,76.99 450.9,77.02 451.4,77.05 451.9,77.07 452.4,77.08 452.9,77.07 453.4,77.06 453.9,77.04 454.4,77.01 454.9,76.96 455.4,76.90 455.9,76.83 456.4,76.75 456.9,76.65 457.4,76.55 457.9,76.43 458.4,76.30 458.9,76.16 459.4,76.01 459.9,75.85 460.4,75.68 460.9,75.51 461.4,75.33 461.9,75.15 462.4,74.96 462.9,74.78 463.4,74.60 463.9,74.43 464.4,74.26 464.9,74.10 465.4,73.96 465.9,73.82 466.4,73.71 466.9,73.61 467.4,73.53 467.9,73.47 468.4,73.44 468.9,73.42 469.4,73.44 469.9,73.48 470.3,73.55 470.8,73.64 471.3,73.75 471.8,73.88 472.3,74.02 472.8,74.18 473.3,74.36 473.8,74.55 474.3,74.75 474.8,74.97 475.3,75.20 475.8,75.43 476.3,75.67 476.8,75.91 477.3,76.15 477.8,76.38 478.3,76.59 478.8,76.79 479.3,76.96 479.8,77.09 480.3,77.17 480.8,77.18 481.3,77.12 481.8,76.97 482.3,76.72 482.8,76.35 483.3,75.85 483.8,75.23 484.3,74.46 484.8,73.57 485.3,72.55 485.8,71.43 486.3,70.23 486.8,68.98 487.3,67.72 487.8,66.49 488.3,65.34 488.8,64.32 489.3,63.45 489.8,62.75 490.3,62.19 490.8,61.70 491.3,61.26 491.8,60.82 492.3,60.15 492.8,59.11 493.3,57.76 493.8,56.42 494.3,55.58 494.8,55.78 495.3,57.31 495.8,59.89 496.3,63.23 496.8,66.96 497.3,70.65 497.8,73.97 498.3,76.67 498.8,78.70 499.3,80.09 499.8,80.95 500.3,81.43 500.8,81.65 501.3,81.71 501.8,81.67 502.3,81.58 502.8,81.47 503.3,81.34 503.8,81.21 504.3,81.07 504.8,80.93 505.3,80.78 505.8,80.64 506.3,80.50 506.8,80.36 507.3,80.22 507.8,80.09 508.3,79.96 508.8,79.84 509.3,79.72 509.8,79.61 510.3,79.51 510.8,79.42 511.3,79.33 511.8,79.26 512.3,79.19 512.8,79.14 513.3,79.10 513.8,79.07 514.3,79.05 514.8,79.04 515.3,79.05 515.8,79.07 516.3,79.10 516.8,79.14 517.3,79.19 517.8,79.25 518.3,79.32 518.8,79.41 519.3,79.52 519.8,79.62 520.3,79.71 520.8,79.78 521.3,79.78 521.8,79.70 522.3,79.51 522.8,79.15 523.3,78.59 523.8,77.79 524.3,76.69 524.8,75.27 525.3,73.49 525.8,71.33 526.3,68.80 526.8,65.92 527.3,62.72 527.8,59.25 528.3,55.59 528.8,51.83 529.2,48.05 529.7,44.37 530.2,40.87 530.7,37.64 531.2,34.80 531.7,32.44 532.2,30.60 532.7,29.32 533.2,28.61 533.7,28.54 534.2,29.14 534.7,30.47 535.2,32.56 535.7,35.59 536.2,45.49 536.7,61.01 537.2,75.28 537.7,84.66 538.2,89.54 538.7,91.85 539.2,93.06 539.7,93.84 540.2,94.42 540.7,94.88 541.2,95.24 541.7,95.54 542.2,95.80 542.7,96.02 543.2,96.22 543.7,96.40 544.2,96.57 544.7,96.72 545.2,96.87 545.7,97.02 546.2,97.16 546.7,97.29 547.2,97.42 547.7,97.55 548.2,97.67 548.7,97.80 549.2,97.92 549.7,98.03 550.2,98.15 550.7,98.27 551.2,98.38 551.7,98.50 552.2,98.61 552.7,98.72 553.2,98.83 553.7,98.94 554.2,99.05 554.7,99.16 555.2,99.27 555.7,99.38 556.2,99.49 556.7,99.59 557.2,99.70 557.7,99.81 558.2,99.92" fill="none" stroke="#e83434" stroke-width="1.05"/>
<line x1="440.40" y1="75.40" x2="558.20" y2="100.00" stroke="#a04848" stroke-width="0.9"/>
<polyline points="448.4,76.81 448.9,76.88 449.4,76.93 449.9,76.98 450.4,77.03 450.9,77.06 451.4,77.09 451.9,77.11 452.4,77.12 452.9,77.12 453.4,77.11 453.9,77.09 454.4,77.05 454.9,77.01 455.4,76.95 455.9,76.88 456.4,76.80 456.9,76.71 457.4,76.60 457.9,76.48 458.4,76.36 458.9,76.22 459.4,76.07 459.9,75.91 460.4,75.75 460.9,75.57 461.4,75.40 461.9,75.22 462.4,75.04 462.9,74.86 463.4,74.68 463.9,74.51 464.4,74.35 464.9,74.20 465.4,74.05 465.9,73.92 466.4,73.81 466.9,73.72 467.4,73.65 467.9,73.59 468.4,73.56 468.9,73.56 469.4,73.58 469.9,73.63 470.3,73.71 470.8,73.81 471.3,73.93 471.8,74.07 472.3,74.23 472.8,74.41 473.3,74.60 473.8,74.81 474.3,75.04 474.8,75.28 475.3,75.53 475.8,75.80 476.3,76.08 476.8,76.37 477.3,76.67 477.8,76.98 478.3,77.30 478.8,77.62 479.3,77.95 479.8,78.28 480.3,78.61 480.8,78.95 481.3,79.28 481.8,79.62 482.3,79.95 482.8,80.28 483.3,80.61 483.8,80.93 484.3,81.25 484.8,81.57 485.3,81.87 485.8,82.17 486.3,82.46 486.8,82.75 487.3,83.02 487.8,83.29 488.3,83.55 488.8,83.80 489.3,84.05 489.8,84.28 490.3,84.51 490.8,84.73 491.3,84.95 491.8,85.15 492.3,85.35 492.8,85.54 493.3,85.72 493.8,85.90 494.3,86.07 494.8,86.24 495.3,86.40 495.8,86.55 496.3,86.70 496.8,86.85 497.3,86.99 497.8,87.13" fill="none" stroke="#e818d8" stroke-width="0.8"/>
<polyline points="476.8,82.73 477.3,82.79 477.8,82.83 478.3,82.86 478.8,82.86 479.3,82.83 479.8,82.76 480.3,82.64 480.8,82.45 481.3,82.20 481.8,81.85 482.3,81.41 482.8,80.86 483.3,80.19 483.8,79.39 484.3,78.47 484.8,77.43 485.3,76.28 485.8,75.03 486.3,73.71 486.8,72.36 487.3,71.01 487.8,69.71 488.3,68.50 488.8,67.44 489.3,66.58 489.8,65.95 490.3,65.61 490.8,65.56 491.3,65.96 491.8,66.93 492.3,68.37 492.8,70.17 493.3,72.20 493.8,74.32 494.3,76.43 494.8,78.41 495.3,80.22 495.8,81.80 496.3,83.13 496.8,84.23 497.3,85.11 497.8,85.81 498.3,86.35 498.8,86.76 499.3,87.08 499.8,87.34 500.3,87.55 500.8,87.72" fill="none" stroke="#38b030" stroke-width="0.8"/>
<polyline points="490.3,85.45 490.8,85.12 491.3,84.40 491.8,83.14 492.3,81.18 492.8,78.50 493.3,75.31 493.8,72.04 494.3,69.30 494.8,67.74 495.3,67.70 495.8,68.94 496.3,71.20 496.8,74.10 497.3,77.19 497.8,80.09 498.3,82.56 498.8,84.47 499.3,85.85 499.8,86.78 500.3,87.37 500.8,87.75" fill="none" stroke="#2838c8" stroke-width="0.8"/>
<polyline points="479.3,83.27 479.8,83.35 480.3,83.42 480.8,83.49 481.3,83.56 481.8,83.63 482.3,83.69 482.8,83.75 483.3,83.81 483.8,83.86 484.3,83.91 484.8,83.96 485.3,84.00 485.8,84.04 486.3,84.07 486.8,84.09 487.3,84.12 487.8,84.13 488.3,84.14 488.8,84.15 489.3,84.15 489.8,84.14 490.3,84.13 490.8,84.11 491.3,84.09 491.8,84.06 492.3,84.02 492.8,83.97 493.3,83.92 493.8,83.86 494.3,83.80 494.8,83.73 495.3,83.65 495.8,83.56 496.3,83.47 496.8,83.37 497.3,83.27 497.8,83.16 498.3,83.04 498.8,82.92 499.3,82.79 499.8,82.66 500.3,82.52 500.8,82.38 501.3,82.24 501.8,82.09 502.3,81.94 502.8,81.79 503.3,81.64 503.8,81.48 504.3,81.33 504.8,81.18 505.3,81.02 505.8,80.87 506.3,80.73 506.8,80.58 507.3,80.44 507.8,80.31 508.3,80.18 508.8,80.05 509.3,79.94 509.8,79.83 510.3,79.73 510.8,79.64 511.3,79.56 511.8,79.49 512.3,79.43 512.8,79.38 513.3,79.34 513.8,79.32 514.3,79.31 514.8,79.32 515.3,79.34 515.8,79.37 516.3,79.42 516.8,79.48 517.3,79.56 517.8,79.66 518.3,79.77 518.8,79.92 519.3,80.11 519.8,80.33 520.3,80.58 520.8,80.86 521.3,81.17 521.8,81.51 522.3,81.88 522.8,82.27 523.3,82.69 523.8,83.12 524.3,83.57 524.8,84.03 525.3,84.51 525.8,84.99 526.3,85.48 526.8,85.98 527.3,86.47 527.8,86.97 528.3,87.46 528.8,87.95 529.2,88.43 529.7,88.90 530.2,89.36 530.7,89.81 531.2,90.24 531.7,90.67 532.2,91.08 532.7,91.47 533.2,91.85 533.7,92.21 534.2,92.56 534.7,92.89 535.2,93.21 535.7,93.51 536.2,93.80 536.7,94.07 537.2,94.33 537.7,94.57 538.2,94.81 538.7,95.03 539.2,95.24 539.7,95.44 540.2,95.63 540.7,95.81 541.2,95.98 541.7,96.15 542.2,96.31 542.7,96.46 543.2,96.61" fill="none" stroke="#9a38e0" stroke-width="0.8"/>
<polyline points="515.8,90.87 516.3,90.96 516.8,91.04 517.3,91.12 517.8,91.19 518.3,91.25 518.8,91.29 519.3,91.31 519.8,91.30 520.3,91.24 520.8,91.13 521.3,90.92 521.8,90.61 522.3,90.15 522.8,89.52 523.3,88.66 523.8,87.55 524.3,86.14 524.8,84.42 525.3,82.36 525.8,79.98 526.3,77.30 526.8,74.38 527.3,71.30 527.8,68.16 528.3,65.10 528.8,62.28 529.2,59.83 529.7,57.93 530.2,56.69 530.7,56.22 531.2,56.59 531.7,57.83 532.2,59.84 532.7,62.48 533.2,65.59 533.7,68.99 534.2,72.48 534.7,75.94 535.2,79.22 535.7,82.23 536.2,84.91 536.7,87.23 537.2,89.19 537.7,90.80 538.2,92.11 538.7,93.14 539.2,93.94 539.7,94.57 540.2,95.05 540.7,95.43 541.2,95.72 541.7,95.96 542.2,96.17 542.7,96.34 543.2,96.49 543.7,96.64 544.2,96.77 544.7,96.90 545.2,97.02" fill="none" stroke="#9a38e0" stroke-width="0.8"/>
<polyline points="525.8,92.83 526.3,92.69 526.8,92.45 527.3,92.04 527.8,91.42 528.3,90.54 528.8,89.33 529.2,87.72 529.7,85.68 530.2,83.16 530.7,80.16 531.2,76.72 531.7,72.91 532.2,68.86 532.7,64.75 533.2,60.76 533.7,57.14 534.2,54.10 534.7,51.85 535.2,50.56 535.7,50.48 536.2,57.62 536.7,70.76 537.2,83.02 537.7,90.74 538.2,94.30 538.7,95.57" fill="none" stroke="#c86070" stroke-width="0.8"/>
<polyline points="440.4,74.83 440.9,74.90 441.4,74.95 441.9,75.10 442.4,75.25 442.9,75.44 443.4,75.27 443.9,75.67 444.4,75.79 444.9,75.71 445.4,75.65 445.9,75.66 446.4,76.16 446.9,76.01 447.4,76.18 447.9,76.31 448.4,76.45 448.9,76.13 449.4,76.38 449.9,76.35 450.4,76.21 450.9,76.62 451.4,76.36 451.9,76.50 452.4,76.46 452.9,76.28 453.4,76.34 453.9,76.57 454.4,76.57 454.9,76.17 455.4,76.37 455.9,76.32 456.4,76.29 456.9,76.10 457.4,76.08 457.9,75.74 458.4,75.78 458.9,75.54 459.4,75.68 459.9,75.45 460.4,75.17 460.9,75.03 461.4,74.99 461.9,74.80 462.4,74.36 462.9,74.09 463.4,74.23 463.9,73.86 464.4,73.48 464.9,73.34 465.4,73.34 465.9,73.46 466.4,73.34 466.9,73.28 467.4,72.95 467.9,72.83 468.4,72.94 468.9,72.97 469.4,73.05 469.9,72.77 470.3,72.89 470.8,73.00 471.3,73.20 471.8,73.49 472.3,73.36 472.8,73.64 473.3,73.89 473.8,74.20 474.3,74.16 474.8,74.65 475.3,74.46 475.8,75.08 476.3,75.13 476.8,75.48 477.3,75.52 477.8,75.87 478.3,76.13 478.8,76.04 479.3,76.54 479.8,76.69 480.3,76.61 480.8,76.64 481.3,76.42 481.8,76.40 482.3,76.29 482.8,75.65 483.3,75.14 483.8,74.80 484.3,74.14 484.8,73.16 485.3,71.93 485.8,70.82 486.3,69.47 486.8,68.18 487.3,67.15 487.8,66.16 488.3,65.02 488.8,63.70 489.3,63.00 489.8,62.36 490.3,61.78 490.8,61.04 491.3,60.55 491.8,60.35 492.3,59.69 492.8,58.42 493.3,57.40 493.8,56.02 494.3,54.83 494.8,55.42 495.3,56.99 495.8,59.12 496.3,62.67 496.8,66.54 497.3,69.98 497.8,73.44 498.3,75.94 498.8,78.03 499.3,79.50 499.8,80.35 500.3,80.69 500.8,81.15 501.3,81.12 501.8,80.99 502.3,80.98 502.8,81.01 503.3,80.96 503.8,80.81 504.3,80.38 504.8,80.35 505.3,80.37 505.8,80.06 506.3,79.87 506.8,79.67 507.3,79.49 507.8,79.66 508.3,79.52 508.8,79.43 509.3,79.41 509.8,78.91 510.3,78.80 510.8,78.84 511.3,78.62 511.8,78.65 512.3,78.42 512.8,78.44 513.3,78.62 513.8,78.70 514.3,78.55 514.8,78.64 515.3,78.31 515.8,78.33 516.3,78.52 516.8,78.42 517.3,78.45 517.8,78.75 518.3,78.89 518.8,78.65 519.3,78.95 519.8,79.30 520.3,79.08 520.8,79.17 521.3,79.12 521.8,79.14 522.3,79.02 522.8,78.78 523.3,77.92 523.8,77.16 524.3,76.21 524.8,74.65 525.3,72.96 525.8,70.85 526.3,68.34 526.8,65.36 527.3,62.12 527.8,58.81 528.3,54.95 528.8,51.19 529.2,47.55 529.7,43.65 530.2,40.45 530.7,37.04 531.2,34.24 531.7,32.10 532.2,30.04 532.7,28.74 533.2,28.10 533.7,27.96 534.2,28.37 534.7,30.15 535.2,31.96 535.7,35.01 536.2,45.12 536.7,60.71 537.2,74.55 537.7,84.22 538.2,89.16 538.7,91.49 539.2,92.36 539.7,93.36 540.2,94.08 540.7,94.35 541.2,94.92 541.7,95.19 542.2,95.38 542.7,95.27 543.2,95.43 543.7,95.96 544.2,96.25 544.7,96.15 545.2,96.35 545.7,96.61 546.2,96.77 546.7,96.96 547.2,96.87 547.7,96.75 548.2,97.21 548.7,97.00 549.2,97.51 549.7,97.47 550.2,97.37 550.7,97.52 551.2,97.99 551.7,97.74 552.2,98.29 552.7,98.39 553.2,98.25 553.7,98.55 554.2,98.60 554.7,98.81 555.2,98.87 555.7,98.65 556.2,98.92 556.7,99.17 557.2,99.10 557.7,99.23 558.2,99.38" fill="none" stroke="#1a1a1a" stroke-width="0.6" stroke-dasharray="1.4 0.9" opacity="0.75"/>
<rect x="428.60" y="3.40" width="144.0" height="106.3" fill="none" stroke="#6a6a6a" stroke-width="1"/>
<line x1="428.80" y1="109.70" x2="428.80" y2="111.70" stroke="#6a6a6a" stroke-width="0.8"/>
<text x="428.80" y="119.40" font-size="7.9" text-anchor="middle" style="stroke-width:0.25px">820</text>
<line x1="441.91" y1="109.70" x2="441.91" y2="110.90" stroke="#6a6a6a" stroke-width="0.8"/>
<line x1="455.02" y1="109.70" x2="455.02" y2="111.70" stroke="#6a6a6a" stroke-width="0.8"/>
<text x="455.02" y="119.40" font-size="7.9" text-anchor="middle" style="stroke-width:0.25px">810</text>
<line x1="468.13" y1="109.70" x2="468.13" y2="110.90" stroke="#6a6a6a" stroke-width="0.8"/>
<line x1="481.24" y1="109.70" x2="481.24" y2="111.70" stroke="#6a6a6a" stroke-width="0.8"/>
<text x="481.24" y="119.40" font-size="7.9" text-anchor="middle" style="stroke-width:0.25px">800</text>
<line x1="494.35" y1="109.70" x2="494.35" y2="110.90" stroke="#6a6a6a" stroke-width="0.8"/>
<line x1="507.46" y1="109.70" x2="507.46" y2="111.70" stroke="#6a6a6a" stroke-width="0.8"/>
<text x="507.46" y="119.40" font-size="7.9" text-anchor="middle" style="stroke-width:0.25px">790</text>
<line x1="520.57" y1="109.70" x2="520.57" y2="110.90" stroke="#6a6a6a" stroke-width="0.8"/>
<line x1="533.68" y1="109.70" x2="533.68" y2="111.70" stroke="#6a6a6a" stroke-width="0.8"/>
<text x="533.68" y="119.40" font-size="7.9" text-anchor="middle" style="stroke-width:0.25px">780</text>
<line x1="546.79" y1="109.70" x2="546.79" y2="110.90" stroke="#6a6a6a" stroke-width="0.8"/>
<line x1="559.90" y1="109.70" x2="559.90" y2="111.70" stroke="#6a6a6a" stroke-width="0.8"/>
<text x="559.90" y="119.40" font-size="7.9" text-anchor="middle" style="stroke-width:0.25px">770</text>
<line x1="482.00" y1="62.00" x2="486.10" y2="64.26" stroke="#111" stroke-width="0.7"/>
<polygon points="488.90,65.80 485.42,65.48 486.77,63.03" fill="#111"/>
<line x1="501.10" y1="63.00" x2="497.58" y2="65.88" stroke="#111" stroke-width="0.7"/>
<polygon points="495.10,67.90 496.69,64.79 498.46,66.96" fill="#111"/>
<line x1="530.10" y1="54.60" x2="523.69" y2="48.34" stroke="#111" stroke-width="0.7"/>
<polygon points="521.40,46.10 524.67,47.33 522.71,49.34" fill="#111"/>
<line x1="535.10" y1="50.40" x2="540.38" y2="46.27" stroke="#111" stroke-width="0.7"/>
<polygon points="542.90,44.30 541.24,47.37 539.52,45.17" fill="#111"/>
<rect x="482.50" y="22.50" width="38.30" height="21.30" fill="#fff" stroke="#b4b4b4" stroke-width="0.9"/>
<rect x="545.40" y="36.30" width="52.40" height="10.60" fill="#fff" stroke="#b4b4b4" stroke-width="0.9"/>
<polyline points="47.1,222.67 47.6,222.75 48.1,222.83 48.6,222.91 49.1,222.99 49.6,223.07 50.1,223.15 50.6,223.23 51.1,223.30 51.6,223.38 52.1,223.45 52.6,223.52 53.1,223.59 53.6,223.66 54.1,223.72 54.5,223.78 55.0,223.84 55.5,223.89 56.0,223.94 56.5,223.99 57.0,224.03 57.5,224.06 58.0,224.09 58.5,224.11 59.0,224.13 59.5,224.14 60.0,224.14 60.5,224.13 61.0,224.11 61.5,224.09 62.0,224.06 62.5,224.01 63.0,223.96 63.5,223.90 64.0,223.83 64.5,223.75 65.0,223.66 65.5,223.56 66.0,223.45 66.5,223.34 67.0,223.22 67.5,223.10 68.0,222.97 68.5,222.84 69.0,222.71 69.4,222.58 69.9,222.44 70.4,222.32 70.9,222.19 71.4,222.07 71.9,221.96 72.4,221.86 72.9,221.77 73.4,221.70 73.9,221.63 74.4,221.59 74.9,221.56 75.4,221.55 75.9,221.55 76.4,221.58 76.9,221.62 77.4,221.69 77.9,221.78 78.4,221.87 78.9,221.97 79.4,222.08 79.9,222.20 80.4,222.33 80.9,222.46 81.4,222.61 81.9,222.76 82.4,222.92 82.9,223.08 83.4,223.25 83.8,223.42 84.3,223.59 84.8,223.76 85.3,223.93 85.8,224.08 86.3,224.23 86.8,224.36 87.3,224.46 87.8,224.53 88.3,224.55 88.8,224.51 89.3,224.41 89.8,224.22 90.3,223.93 90.8,223.54 91.3,223.03 91.8,222.40 92.3,221.64 92.8,220.76 93.3,219.78 93.8,218.71 94.3,217.59 94.8,216.44 95.3,215.31 95.8,214.24 96.3,213.27 96.8,212.43 97.3,211.73 97.8,211.11 98.3,210.51 98.7,209.89 99.2,209.21 99.7,208.33 100.2,207.28 100.7,206.23 101.2,205.54 101.7,205.62 102.2,206.77 102.7,209.06 103.2,212.23 103.7,215.85 104.2,219.38 104.7,222.44 105.2,224.80 105.7,226.44 106.2,227.46 106.7,228.03 107.2,228.30 107.7,228.39 108.2,228.37 108.7,228.29 109.2,228.19 109.7,228.06 110.2,227.92 110.7,227.77 111.2,227.62 111.7,227.46 112.2,227.29 112.7,227.13 113.1,226.96 113.6,226.80 114.1,226.63 114.6,226.48 115.1,226.32 115.6,226.17 116.1,226.03 116.6,225.89 117.1,225.77 117.6,225.66 118.1,225.56 118.6,225.47 119.1,225.39 119.6,225.33 120.1,225.29 120.6,225.26 121.1,225.25 121.6,225.25 122.1,225.27 122.6,225.31 123.1,225.36 123.6,225.43 124.1,225.50 124.6,225.58 125.1,225.67 125.6,225.75 126.1,225.82 126.6,225.87 127.1,225.89 127.6,225.87 128.0,225.79 128.5,225.63 129.0,225.36 129.5,224.97 130.0,224.43 130.5,223.72 131.0,222.82 131.5,221.71 132.0,220.38 132.5,218.84 133.0,217.09 133.5,215.16 134.0,213.09 134.5,210.90 135.0,208.66 135.5,206.40 136.0,204.15 136.5,201.92 137.0,199.70 137.5,197.44 138.0,195.07 138.5,192.51 139.0,189.82 139.5,187.11 140.0,184.51 140.5,182.26 141.0,180.71 141.5,180.23 142.0,181.15 142.4,183.70 142.9,190.67 143.4,201.59 143.9,212.89 144.4,221.87 144.9,227.80 145.4,231.33 145.9,233.43 146.4,234.80 146.9,235.80 147.4,236.58 147.9,237.20 148.4,237.70 148.9,238.11 149.4,238.45 149.9,238.74 150.4,238.99 150.9,239.21 151.4,239.40 151.9,239.58 152.4,239.75 152.9,239.91 153.4,240.06 153.9,240.20 154.4,240.34 154.9,240.47 155.4,240.60 155.9,240.73 156.4,240.85 156.9,240.96 157.3,241.08 157.8,241.19 158.3,241.30 158.8,241.41 159.3,241.51 159.8,241.61 160.3,241.72 160.8,241.82 161.3,241.91 161.8,242.01 162.3,242.11 162.8,242.20 163.3,242.30 163.8,242.39 164.3,242.48" fill="none" stroke="#e83434" stroke-width="1.05"/>
<line x1="47.10" y1="222.70" x2="164.30" y2="242.60" stroke="#a04848" stroke-width="0.9"/>
<polyline points="56.5,224.02 57.0,224.06 57.5,224.10 58.0,224.13 58.5,224.15 59.0,224.16 59.5,224.17 60.0,224.17 60.5,224.17 61.0,224.15 61.5,224.13 62.0,224.10 62.5,224.05 63.0,224.00 63.5,223.94 64.0,223.87 64.5,223.79 65.0,223.70 65.5,223.61 66.0,223.50 66.5,223.39 67.0,223.28 67.5,223.15 68.0,223.03 68.5,222.90 69.0,222.77 69.4,222.63 69.9,222.51 70.4,222.38 70.9,222.26 71.4,222.14 71.9,222.03 72.4,221.93 72.9,221.85 73.4,221.77 73.9,221.71 74.4,221.67 74.9,221.64 75.4,221.63 75.9,221.64 76.4,221.67 76.9,221.72 77.4,221.79 77.9,221.88 78.4,221.98 78.9,222.09 79.4,222.20 79.9,222.33 80.4,222.46 80.9,222.61 81.4,222.76 81.9,222.92 82.4,223.09 82.9,223.26 83.4,223.45 83.8,223.64 84.3,223.83 84.8,224.04 85.3,224.24 85.8,224.46 86.3,224.67 86.8,224.89 87.3,225.11 87.8,225.34 88.3,225.57 88.8,225.80 89.3,226.03 89.8,226.26 90.3,226.49 90.8,226.72 91.3,226.95 91.8,227.18 92.3,227.40 92.8,227.63 93.3,227.85 93.8,228.07 94.3,228.29 94.8,228.50 95.3,228.71 95.8,228.92 96.3,229.12 96.8,229.32 97.3,229.51 97.8,229.70 98.3,229.89 98.7,230.07 99.2,230.25 99.7,230.42 100.2,230.59 100.7,230.76 101.2,230.92 101.7,231.07 102.2,231.23 102.7,231.38 103.2,231.52 103.7,231.66 104.2,231.80 104.7,231.93 105.2,232.06 105.7,232.19 106.2,232.32 106.7,232.44 107.2,232.56 107.7,232.67 108.2,232.79 108.7,232.90" fill="none" stroke="#e818d8" stroke-width="0.8"/>
<polyline points="85.3,228.93 85.8,228.97 86.3,228.99 86.8,228.99 87.3,228.96 87.8,228.90 88.3,228.79 88.8,228.62 89.3,228.38 89.8,228.06 90.3,227.65 90.8,227.13 91.3,226.50 91.8,225.74 92.3,224.87 92.8,223.88 93.3,222.79 93.8,221.62 94.3,220.41 94.8,219.17 95.3,217.97 95.8,216.84 96.3,215.83 96.8,215.01 97.3,214.40 97.8,214.06 98.3,214.01 98.7,214.35 99.2,215.17 99.7,216.40 100.2,217.93 100.7,219.65 101.2,221.46 101.7,223.24 102.2,224.93 102.7,226.46 103.2,227.80 103.7,228.94 104.2,229.87 104.7,230.62 105.2,231.21 105.7,231.67 106.2,232.02 106.7,232.29 107.2,232.50 107.7,232.68" fill="none" stroke="#38b030" stroke-width="0.8"/>
<polyline points="97.8,230.75 98.3,230.27 98.7,229.38 99.2,227.95 99.7,225.95 100.2,223.47 100.7,220.82 101.2,218.46 101.7,216.90 102.2,216.52 102.7,217.45 103.2,219.46 103.7,222.13 104.2,224.94 104.7,227.47 105.2,229.47 105.7,230.90 106.2,231.82 106.7,232.38" fill="none" stroke="#2838c8" stroke-width="0.8"/>
<polyline points="92.8,230.21 93.3,230.26 93.8,230.31 94.3,230.35 94.8,230.39 95.3,230.43 95.8,230.46 96.3,230.49 96.8,230.51 97.3,230.53 97.8,230.54 98.3,230.55 98.7,230.54 99.2,230.54 99.7,230.52 100.2,230.50 100.7,230.47 101.2,230.43 101.7,230.38 102.2,230.33 102.7,230.26 103.2,230.19 103.7,230.11 104.2,230.02 104.7,229.92 105.2,229.82 105.7,229.70 106.2,229.58 106.7,229.45 107.2,229.31 107.7,229.16 108.2,229.01 108.7,228.85 109.2,228.69 109.7,228.52 110.2,228.34 110.7,228.17 111.2,227.99 111.7,227.81 112.2,227.62 112.7,227.44 113.1,227.26 113.6,227.09 114.1,226.91 114.6,226.74 115.1,226.58 115.6,226.43 116.1,226.28 116.6,226.15 117.1,226.02 117.6,225.91 118.1,225.81 118.6,225.72 119.1,225.65 119.6,225.59 120.1,225.55 120.6,225.53 121.1,225.53 121.6,225.54 122.1,225.58 122.6,225.63 123.1,225.70 123.6,225.79 124.1,225.90 124.6,226.02 125.1,226.16 125.6,226.32 126.1,226.49 126.6,226.68 127.1,226.88 127.6,227.10 128.0,227.33 128.5,227.57 129.0,227.83 129.5,228.09 130.0,228.37 130.5,228.66 131.0,228.95 131.5,229.25 132.0,229.56 132.5,229.88 133.0,230.20 133.5,230.52 134.0,230.85 134.5,231.18 135.0,231.51 135.5,231.84 136.0,232.17 136.5,232.50 137.0,232.83 137.5,233.16 138.0,233.48 138.5,233.79 139.0,234.11 139.5,234.42 140.0,234.72 140.5,235.01 141.0,235.30 141.5,235.59 142.0,235.86 142.4,236.13 142.9,236.39 143.4,236.65 143.9,236.90 144.4,237.14 144.9,237.37 145.4,237.59 145.9,237.81 146.4,238.02 146.9,238.22 147.4,238.42 147.9,238.61 148.4,238.79 148.9,238.97 149.4,239.14 149.9,239.30 150.4,239.46 150.9,239.62 151.4,239.77 151.9,239.91 152.4,240.05 152.9,240.18 153.4,240.31 153.9,240.44 154.4,240.56 154.9,240.68 155.4,240.80 155.9,240.91" fill="none" stroke="#9a38e0" stroke-width="0.8"/>
<polyline points="122.1,235.17 122.6,235.24 123.1,235.30 123.6,235.36 124.1,235.41 124.6,235.45 125.1,235.47 125.6,235.48 126.1,235.46 126.6,235.41 127.1,235.32 127.6,235.16 128.0,234.93 128.5,234.61 129.0,234.17 129.5,233.60 130.0,232.86 130.5,231.95 131.0,230.84 131.5,229.51 132.0,227.96 132.5,226.18 133.0,224.20 133.5,222.04 134.0,219.74 134.5,217.35 135.0,214.94 135.5,212.59 136.0,210.39 136.5,208.42 137.0,206.79 137.5,205.56 138.0,204.82 138.5,204.61 139.0,205.00 139.5,206.07 140.0,207.74 140.5,209.90 141.0,212.44 141.5,215.21 142.0,218.10 142.4,220.98 142.9,223.76 143.4,226.35 143.9,228.71 144.4,230.80 144.9,232.60 145.4,234.13 145.9,235.39 146.4,236.42 146.9,237.25 147.4,237.90 147.9,238.41 148.4,238.82 148.9,239.14 149.4,239.39 149.9,239.60 150.4,239.77 150.9,239.92 151.4,240.05 151.9,240.17 152.4,240.29 152.9,240.39" fill="none" stroke="#9a38e0" stroke-width="0.8"/>
<polyline points="135.5,237.39 136.0,237.19 136.5,236.77 137.0,236.03 137.5,234.83 138.0,233.04 138.5,230.56 139.0,227.32 139.5,223.40 140.0,219.00 140.5,214.46 141.0,210.26 141.5,206.89 142.0,204.81 142.4,204.38 142.9,208.48 143.4,216.72 143.9,225.58 144.4,232.40 144.9,236.46 145.4,238.41 145.9,239.20" fill="none" stroke="#c86070" stroke-width="0.8"/>
<polyline points="47.1,222.13 47.6,222.06 48.1,222.25 48.6,222.22 49.1,222.32 49.6,222.31 50.1,222.56 50.6,222.91 51.1,222.89 51.6,222.70 52.1,223.10 52.6,222.77 53.1,223.22 53.6,223.16 54.1,223.22 54.5,223.38 55.0,223.28 55.5,223.46 56.0,223.29 56.5,223.49 57.0,223.56 57.5,223.33 58.0,223.52 58.5,223.33 59.0,223.36 59.5,223.74 60.0,223.45 60.5,223.35 61.0,223.38 61.5,223.43 62.0,223.31 62.5,223.57 63.0,223.25 63.5,223.41 64.0,223.05 64.5,223.21 65.0,223.07 65.5,223.08 66.0,222.96 66.5,222.55 67.0,222.77 67.5,222.67 68.0,222.19 68.5,222.15 69.0,222.04 69.4,221.83 69.9,222.04 70.4,221.72 70.9,221.87 71.4,221.37 71.9,221.20 72.4,221.20 72.9,220.99 73.4,221.02 73.9,221.18 74.4,221.09 74.9,220.88 75.4,221.03 75.9,221.24 76.4,221.06 76.9,221.07 77.4,221.35 77.9,221.24 78.4,221.22 78.9,221.56 79.4,221.58 79.9,221.69 80.4,221.68 80.9,221.69 81.4,222.03 81.9,222.36 82.4,222.55 82.9,222.58 83.4,222.78 83.8,223.09 84.3,223.02 84.8,223.28 85.3,223.44 85.8,223.32 86.3,223.67 86.8,223.87 87.3,223.92 87.8,223.87 88.3,223.82 88.8,224.02 89.3,223.73 89.8,223.75 90.3,223.16 90.8,222.81 91.3,222.48 91.8,221.84 92.3,221.21 92.8,220.41 93.3,219.14 93.8,218.24 94.3,217.06 94.8,215.84 95.3,214.98 95.8,213.58 96.3,212.56 96.8,211.71 97.3,211.35 97.8,210.46 98.3,210.00 98.7,209.49 99.2,208.49 99.7,207.71 100.2,206.69 100.7,205.84 101.2,204.96 101.7,205.27 102.2,206.18 102.7,208.71 103.2,211.63 103.7,215.49 104.2,218.64 104.7,221.82 105.2,224.21 105.7,225.69 106.2,226.75 106.7,227.66 107.2,227.61 107.7,228.00 108.2,227.69 108.7,227.75 109.2,227.82 109.7,227.29 110.2,227.29 110.7,227.08 111.2,226.82 111.7,226.91 112.2,226.81 112.7,226.52 113.1,226.52 113.6,226.44 114.1,226.18 114.6,225.97 115.1,225.66 115.6,225.73 116.1,225.48 116.6,225.21 117.1,225.08 117.6,224.98 118.1,224.93 118.6,225.07 119.1,224.64 119.6,224.67 120.1,224.55 120.6,224.70 121.1,224.75 121.6,224.89 122.1,224.85 122.6,224.69 123.1,224.90 123.6,224.91 124.1,225.10 124.6,224.97 125.1,224.97 125.6,225.34 126.1,225.22 126.6,225.49 127.1,225.57 127.6,225.56 128.0,225.36 128.5,224.85 129.0,224.87 129.5,224.45 130.0,223.92 130.5,223.26 131.0,222.14 131.5,221.24 132.0,219.76 132.5,218.12 133.0,216.59 133.5,214.49 134.0,212.46 134.5,210.24 135.0,207.95 135.5,205.79 136.0,203.56 136.5,201.57 137.0,199.06 137.5,196.81 138.0,194.52 138.5,191.81 139.0,189.41 139.5,186.69 140.0,184.00 140.5,181.83 141.0,180.02 141.5,179.74 142.0,180.68 142.4,183.30 142.9,190.11 143.4,200.90 143.9,212.38 144.4,221.18 144.9,227.20 145.4,230.70 145.9,232.99 146.4,234.12 146.9,235.19 147.4,236.15 147.9,236.49 148.4,236.92 148.9,237.68 149.4,238.10 149.9,238.09 150.4,238.49 150.9,238.88 151.4,238.83 151.9,239.05 152.4,239.22 152.9,239.41 153.4,239.64 153.9,239.71 154.4,239.63 154.9,239.97 155.4,240.01 155.9,240.23 156.4,240.06 156.9,240.47 157.3,240.48 157.8,240.43 158.3,240.55 158.8,241.10 159.3,240.91 159.8,241.28 160.3,241.03 160.8,241.30 161.3,241.12 161.8,241.35 162.3,241.59 162.8,241.77 163.3,241.62 163.8,241.85 164.3,241.88" fill="none" stroke="#1a1a1a" stroke-width="0.6" stroke-dasharray="1.4 0.9" opacity="0.75"/>
<rect x="34.30" y="152.00" width="144.0" height="106.3" fill="none" stroke="#6a6a6a" stroke-width="1"/>
<line x1="34.50" y1="258.30" x2="34.50" y2="260.30" stroke="#6a6a6a" stroke-width="0.8"/>
<text x="34.50" y="268.00" font-size="7.9" text-anchor="middle" style="stroke-width:0.25px">820</text>
<line x1="47.61" y1="258.30" x2="47.61" y2="259.50" stroke="#6a6a6a" stroke-width="0.8"/>
<line x1="60.72" y1="258.30" x2="60.72" y2="260.30" stroke="#6a6a6a" stroke-width="0.8"/>
<text x="60.72" y="268.00" font-size="7.9" text-anchor="middle" style="stroke-width:0.25px">810</text>
<line x1="73.83" y1="258.30" x2="73.83" y2="259.50" stroke="#6a6a6a" stroke-width="0.8"/>
<line x1="86.94" y1="258.30" x2="86.94" y2="260.30" stroke="#6a6a6a" stroke-width="0.8"/>
<text x="86.94" y="268.00" font-size="7.9" text-anchor="middle" style="stroke-width:0.25px">800</text>
<line x1="100.05" y1="258.30" x2="100.05" y2="259.50" stroke="#6a6a6a" stroke-width="0.8"/>
<line x1="113.16" y1="258.30" x2="113.16" y2="260.30" stroke="#6a6a6a" stroke-width="0.8"/>
<text x="113.16" y="268.00" font-size="7.9" text-anchor="middle" style="stroke-width:0.25px">790</text>
<line x1="126.27" y1="258.30" x2="126.27" y2="259.50" stroke="#6a6a6a" stroke-width="0.8"/>
<line x1="139.38" y1="258.30" x2="139.38" y2="260.30" stroke="#6a6a6a" stroke-width="0.8"/>
<text x="139.38" y="268.00" font-size="7.9" text-anchor="middle" style="stroke-width:0.25px">780</text>
<line x1="152.49" y1="258.30" x2="152.49" y2="259.50" stroke="#6a6a6a" stroke-width="0.8"/>
<line x1="165.60" y1="258.30" x2="165.60" y2="260.30" stroke="#6a6a6a" stroke-width="0.8"/>
<text x="165.60" y="268.00" font-size="7.9" text-anchor="middle" style="stroke-width:0.25px">770</text>
<line x1="97.60" y1="217.50" x2="90.30" y2="217.50" stroke="#111" stroke-width="0.7"/>
<polygon points="87.10,217.50 90.30,216.10 90.30,218.90" fill="#111"/>
<line x1="103.10" y1="217.80" x2="107.40" y2="217.80" stroke="#111" stroke-width="0.7"/>
<polygon points="110.60,217.80 107.40,219.20 107.40,216.40" fill="#111"/>
<line x1="137.40" y1="203.60" x2="131.81" y2="192.27" stroke="#111" stroke-width="0.7"/>
<polygon points="130.40,189.40 133.07,191.65 130.56,192.89" fill="#111"/>
<line x1="141.70" y1="205.00" x2="149.70" y2="194.17" stroke="#111" stroke-width="0.7"/>
<polygon points="151.60,191.60 150.82,195.01 148.57,193.34" fill="#111"/>
<rect x="93.90" y="165.90" width="38.50" height="21.50" fill="#fff" stroke="#b4b4b4" stroke-width="0.9"/>
<rect x="147.30" y="179.30" width="53.70" height="10.70" fill="#fff" stroke="#b4b4b4" stroke-width="0.9"/>
<polyline points="242.7,221.46 243.2,221.54 243.7,221.62 244.2,221.70 244.7,221.78 245.2,221.86 245.7,221.94 246.2,222.01 246.7,222.09 247.2,222.16 247.7,222.23 248.2,222.30 248.7,222.36 249.2,222.42 249.7,222.48 250.2,222.53 250.7,222.58 251.2,222.62 251.7,222.66 252.2,222.69 252.7,222.71 253.2,222.73 253.7,222.74 254.2,222.75 254.7,222.74 255.2,222.73 255.7,222.71 256.2,222.68 256.7,222.64 257.2,222.59 257.6,222.53 258.1,222.46 258.6,222.38 259.1,222.30 259.6,222.20 260.1,222.10 260.6,221.99 261.1,221.88 261.6,221.76 262.1,221.63 262.6,221.50 263.1,221.37 263.6,221.24 264.1,221.11 264.6,220.99 265.1,220.86 265.6,220.75 266.1,220.64 266.6,220.54 267.1,220.45 267.6,220.37 268.1,220.31 268.6,220.26 269.1,220.23 269.6,220.22 270.1,220.23 270.6,220.26 271.1,220.30 271.6,220.37 272.1,220.45 272.6,220.55 273.1,220.65 273.6,220.77 274.1,220.89 274.6,221.03 275.1,221.17 275.6,221.32 276.1,221.48 276.6,221.64 277.1,221.82 277.6,222.00 278.1,222.18 278.6,222.37 279.1,222.56 279.6,222.75 280.1,222.94 280.6,223.12 281.1,223.30 281.6,223.46 282.1,223.60 282.6,223.71 283.1,223.78 283.6,223.81 284.1,223.79 284.6,223.69 285.1,223.51 285.6,223.24 286.1,222.85 286.6,222.35 287.0,221.73 287.5,220.98 288.0,220.12 288.5,219.14 289.0,218.07 289.5,216.93 290.0,215.76 290.5,214.59 291.0,213.46 291.5,212.43 292.0,211.52 292.5,210.74 293.0,210.09 293.5,209.49 294.0,208.86 294.5,208.19 295.0,207.37 295.5,206.33 296.0,205.15 296.5,204.13 297.0,203.70 297.5,204.25 298.0,205.99 298.5,208.83 299.0,212.39 299.5,216.16 300.0,219.64 300.5,222.48 301.0,224.56 301.5,225.94 302.0,226.76 302.5,227.19 303.0,227.37 303.5,227.41 304.0,227.36 304.5,227.27 305.0,227.15 305.5,227.02 306.0,226.87 306.5,226.71 307.0,226.55 307.5,226.39 308.0,226.22 308.5,226.05 309.0,225.88 309.5,225.72 310.0,225.55 310.5,225.39 311.0,225.24 311.5,225.09 312.0,224.95 312.5,224.82 313.0,224.70 313.5,224.59 314.0,224.49 314.5,224.41 315.0,224.34 315.5,224.28 316.0,224.24 316.4,224.22 316.9,224.21 317.4,224.22 317.9,224.25 318.4,224.29 318.9,224.34 319.4,224.41 319.9,224.50 320.4,224.61 320.9,224.73 321.4,224.84 321.9,224.96 322.4,225.05 322.9,225.12 323.4,225.13 323.9,225.08 324.4,224.95 324.9,224.71 325.4,224.33 325.9,223.79 326.4,223.07 326.9,222.16 327.4,221.02 327.9,219.67 328.4,218.09 328.9,216.29 329.4,214.29 329.9,212.12 330.4,209.79 330.9,207.33 331.4,204.75 331.9,202.07 332.4,199.26 332.9,196.33 333.4,193.25 333.9,190.04 334.4,186.71 334.9,183.54 335.4,180.88 335.9,178.89 336.4,177.71 336.9,177.52 337.4,178.45 337.9,180.62 338.4,184.60 338.9,194.30 339.4,207.18 339.9,218.86 340.4,227.00 340.9,231.74 341.4,234.28 341.9,235.69 342.4,236.59 342.9,237.22 343.4,237.69 343.9,238.06 344.4,238.35 344.9,238.58 345.4,238.77 345.8,238.94 346.3,239.09 346.8,239.23 347.3,239.36 347.8,239.48 348.3,239.60 348.8,239.72 349.3,239.83 349.8,239.93 350.3,240.04 350.8,240.14 351.3,240.24 351.8,240.35 352.3,240.44 352.8,240.54 353.3,240.64 353.8,240.73 354.3,240.83 354.8,240.92 355.3,241.01 355.8,241.11 356.3,241.20 356.8,241.29 357.3,241.38 357.8,241.47 358.3,241.56 358.8,241.66 359.3,241.75 359.8,241.84 360.3,241.93" fill="none" stroke="#e83434" stroke-width="1.05"/>
<line x1="242.70" y1="221.50" x2="360.30" y2="242.00" stroke="#a04848" stroke-width="0.9"/>
<polyline points="250.7,222.61 251.2,222.65 251.7,222.69 252.2,222.72 252.7,222.75 253.2,222.77 253.7,222.78 254.2,222.79 254.7,222.78 255.2,222.77 255.7,222.75 256.2,222.72 256.7,222.68 257.2,222.63 257.6,222.57 258.1,222.51 258.6,222.43 259.1,222.35 259.6,222.25 260.1,222.15 260.6,222.04 261.1,221.93 261.6,221.81 262.1,221.69 262.6,221.56 263.1,221.43 263.6,221.30 264.1,221.17 264.6,221.05 265.1,220.93 265.6,220.81 266.1,220.71 266.6,220.61 267.1,220.52 267.6,220.45 268.1,220.39 268.6,220.35 269.1,220.32 269.6,220.31 270.1,220.32 270.6,220.35 271.1,220.40 271.6,220.47 272.1,220.56 272.6,220.66 273.1,220.77 273.6,220.89 274.1,221.02 274.6,221.16 275.1,221.31 275.6,221.46 276.1,221.63 276.6,221.81 277.1,221.99 277.6,222.18 278.1,222.38 278.6,222.58 279.1,222.80 279.6,223.01 280.1,223.23 280.6,223.46 281.1,223.69 281.6,223.92 282.1,224.15 282.6,224.39 283.1,224.63 283.6,224.87 284.1,225.10 284.6,225.34 285.1,225.58 285.6,225.82 286.1,226.05 286.6,226.29 287.0,226.52 287.5,226.74 288.0,226.97 288.5,227.19 289.0,227.41 289.5,227.62 290.0,227.83 290.5,228.03 291.0,228.23 291.5,228.43 292.0,228.62 292.5,228.81 293.0,228.99 293.5,229.17 294.0,229.34 294.5,229.51 295.0,229.68 295.5,229.84 296.0,229.99 296.5,230.14 297.0,230.29 297.5,230.43 298.0,230.57 298.5,230.71 299.0,230.84 299.5,230.97 300.0,231.10 300.5,231.22 301.0,231.34 301.5,231.46 302.0,231.57" fill="none" stroke="#e818d8" stroke-width="0.8"/>
<polyline points="280.6,227.83 281.1,227.87 281.6,227.89 282.1,227.89 282.6,227.86 283.1,227.80 283.6,227.69 284.1,227.52 284.6,227.28 285.1,226.97 285.6,226.56 286.1,226.05 286.6,225.43 287.0,224.69 287.5,223.82 288.0,222.85 288.5,221.77 289.0,220.60 289.5,219.38 290.0,218.13 290.5,216.89 291.0,215.71 291.5,214.64 292.0,213.73 292.5,213.01 293.0,212.55 293.5,212.35 294.0,212.48 294.5,213.07 295.0,214.10 295.5,215.48 296.0,217.12 296.5,218.90 297.0,220.73 297.5,222.51 298.0,224.18 298.5,225.68 299.0,226.99 299.5,228.09 300.0,229.00 300.5,229.73 301.0,230.31 301.5,230.76 302.0,231.11 302.5,231.38 303.0,231.60 303.5,231.77 304.0,231.92" fill="none" stroke="#38b030" stroke-width="0.8"/>
<polyline points="293.0,229.91 293.5,229.58 294.0,228.91 294.5,227.76 295.0,226.02 295.5,223.71 296.0,221.02 296.5,218.37 297.0,216.26 297.5,215.20 298.0,215.46 298.5,216.99 299.0,219.46 299.5,222.34 300.0,225.14 300.5,227.49 301.0,229.25 301.5,230.44 302.0,231.19 302.5,231.63" fill="none" stroke="#2838c8" stroke-width="0.8"/>
<polyline points="288.0,229.15 288.5,229.20 289.0,229.25 289.5,229.30 290.0,229.34 290.5,229.38 291.0,229.42 291.5,229.45 292.0,229.47 292.5,229.49 293.0,229.51 293.5,229.51 294.0,229.52 294.5,229.51 295.0,229.50 295.5,229.48 296.0,229.45 296.5,229.42 297.0,229.37 297.5,229.32 298.0,229.26 298.5,229.19 299.0,229.12 299.5,229.03 300.0,228.94 300.5,228.84 301.0,228.73 301.5,228.61 302.0,228.48 302.5,228.35 303.0,228.20 303.5,228.05 304.0,227.90 304.5,227.74 305.0,227.57 305.5,227.40 306.0,227.23 306.5,227.05 307.0,226.87 307.5,226.69 308.0,226.51 308.5,226.33 309.0,226.15 309.5,225.98 310.0,225.81 310.5,225.65 311.0,225.49 311.5,225.34 312.0,225.20 312.5,225.07 313.0,224.95 313.5,224.84 314.0,224.75 314.5,224.67 315.0,224.61 315.5,224.56 316.0,224.53 316.4,224.51 316.9,224.52 317.4,224.54 317.9,224.58 318.4,224.64 318.9,224.72 319.4,224.82 319.9,224.96 320.4,225.12 320.9,225.30 321.4,225.52 321.9,225.75 322.4,226.02 322.9,226.30 323.4,226.61 323.9,226.93 324.4,227.27 324.9,227.63 325.4,228.00 325.9,228.38 326.4,228.77 326.9,229.17 327.4,229.58 327.9,229.98 328.4,230.39 328.9,230.80 329.4,231.21 329.9,231.61 330.4,232.01 330.9,232.40 331.4,232.79 331.9,233.16 332.4,233.53 332.9,233.88 333.4,234.22 333.9,234.55 334.4,234.87 334.9,235.18 335.4,235.48 335.9,235.76 336.4,236.03 336.9,236.28 337.4,236.53 337.9,236.76 338.4,236.99 338.9,237.20 339.4,237.40 339.9,237.59 340.4,237.77 340.9,237.95 341.4,238.11 341.9,238.27 342.4,238.42 342.9,238.56 343.4,238.70 343.9,238.83 344.4,238.96" fill="none" stroke="#9a38e0" stroke-width="0.8"/>
<polyline points="316.9,234.19 317.4,234.26 317.9,234.33 318.4,234.39 318.9,234.45 319.4,234.50 319.9,234.55 320.4,234.58 320.9,234.59 321.4,234.58 321.9,234.54 322.4,234.46 322.9,234.33 323.4,234.13 323.9,233.84 324.4,233.45 324.9,232.93 325.4,232.27 325.9,231.44 326.4,230.42 326.9,229.19 327.4,227.74 327.9,226.07 328.4,224.18 328.9,222.09 329.4,219.82 329.9,217.43 330.4,214.96 330.9,212.48 331.4,210.07 331.9,207.82 332.4,205.82 332.9,204.15 333.4,202.90 333.9,202.13 334.4,201.89 334.9,202.36 335.4,203.75 335.9,205.95 336.4,208.78 336.9,212.04 337.4,215.51 337.9,219.00 338.4,222.35 338.9,225.44 339.4,228.18 339.9,230.54 340.4,232.51 340.9,234.10 341.4,235.36 341.9,236.33 342.4,237.07 342.9,237.63 343.4,238.05 343.9,238.37 344.4,238.62 344.9,238.81 345.4,238.98 345.8,239.12 346.3,239.25 346.8,239.36 347.3,239.48" fill="none" stroke="#9a38e0" stroke-width="0.8"/>
<polyline points="330.4,236.42 330.9,236.21 331.4,235.83 331.9,235.20 332.4,234.20 332.9,232.76 333.4,230.77 333.9,228.16 334.4,224.93 334.9,221.15 335.4,216.98 335.9,212.68 336.4,208.57 336.9,205.04 337.4,202.44 337.9,201.05 338.4,201.63 338.9,208.21 339.4,218.31 339.9,227.61 340.4,233.79 340.9,236.93 341.4,238.22" fill="none" stroke="#c86070" stroke-width="0.8"/>
<polyline points="242.7,221.10 243.2,221.22 243.7,221.08 244.2,221.25 244.7,221.43 245.2,221.14 245.7,221.44 246.2,221.25 246.7,221.77 247.2,221.80 247.7,221.77 248.2,221.89 248.7,221.87 249.2,221.67 249.7,221.94 250.2,222.19 250.7,221.95 251.2,221.89 251.7,222.32 252.2,222.37 252.7,221.93 253.2,222.21 253.7,222.03 254.2,222.09 254.7,222.08 255.2,222.40 255.7,222.34 256.2,221.95 256.7,222.14 257.2,221.80 257.6,222.12 258.1,221.85 258.6,221.92 259.1,221.51 259.6,221.86 260.1,221.78 260.6,221.26 261.1,221.44 261.6,221.38 262.1,221.16 262.6,220.80 263.1,220.77 263.6,220.51 264.1,220.35 264.6,220.24 265.1,220.56 265.6,220.22 266.1,219.89 266.6,219.88 267.1,220.04 267.6,219.66 268.1,219.54 268.6,219.64 269.1,219.92 269.6,219.90 270.1,219.56 270.6,219.73 271.1,219.89 271.6,219.64 272.1,219.93 272.6,219.92 273.1,220.11 273.6,220.25 274.1,220.48 274.6,220.43 275.1,220.40 275.6,220.55 276.1,221.01 276.6,220.97 277.1,221.37 277.6,221.46 278.1,221.77 278.6,221.82 279.1,221.85 279.6,222.01 280.1,222.43 280.6,222.34 281.1,222.98 281.6,223.03 282.1,223.01 282.6,223.25 283.1,223.13 283.6,223.30 284.1,223.49 284.6,222.90 285.1,223.21 285.6,222.73 286.1,222.15 286.6,221.84 287.0,221.20 287.5,220.38 288.0,219.63 288.5,218.71 289.0,217.49 289.5,216.56 290.0,215.01 290.5,214.22 291.0,212.72 291.5,211.67 292.0,210.89 292.5,210.18 293.0,209.76 293.5,208.98 294.0,208.14 294.5,207.51 295.0,206.77 295.5,205.96 296.0,204.38 296.5,203.50 297.0,203.27 297.5,203.83 298.0,205.29 298.5,208.13 299.0,212.07 299.5,215.68 300.0,219.14 300.5,222.10 301.0,224.07 301.5,225.36 302.0,226.33 302.5,226.82 303.0,226.61 303.5,226.67 304.0,226.66 304.5,226.91 305.0,226.55 305.5,226.41 306.0,226.32 306.5,226.39 307.0,226.08 307.5,226.06 308.0,225.60 308.5,225.63 309.0,225.15 309.5,224.96 310.0,225.13 310.5,224.97 311.0,224.66 311.5,224.57 312.0,224.29 312.5,224.25 313.0,224.08 313.5,224.05 314.0,223.96 314.5,223.82 315.0,223.97 315.5,223.54 316.0,223.48 316.4,223.56 316.9,223.66 317.4,223.45 317.9,223.84 318.4,223.87 318.9,223.69 319.4,223.90 319.9,223.76 320.4,224.00 320.9,224.38 321.4,224.06 321.9,224.59 322.4,224.63 322.9,224.38 323.4,224.56 323.9,224.57 324.4,224.23 324.9,224.01 325.4,223.68 325.9,223.46 326.4,222.37 326.9,221.38 327.4,220.39 327.9,219.31 328.4,217.48 328.9,215.83 329.4,213.59 329.9,211.38 330.4,209.23 330.9,206.82 331.4,204.19 331.9,201.74 332.4,198.95 332.9,195.98 333.4,192.79 333.9,189.40 334.4,186.17 334.9,182.92 335.4,180.51 335.9,178.41 336.4,176.95 336.9,177.05 337.4,177.79 337.9,179.84 338.4,183.90 338.9,193.62 339.4,206.41 339.9,218.35 340.4,226.44 340.9,231.18 341.4,233.86 341.9,235.07 342.4,235.89 342.9,236.44 343.4,237.15 343.9,237.45 344.4,237.59 344.9,238.25 345.4,238.14 345.8,238.23 346.3,238.68 346.8,238.44 347.3,238.64 347.8,238.74 348.3,239.27 348.8,239.32 349.3,239.39 349.8,239.60 350.3,239.28 350.8,239.51 351.3,239.80 351.8,239.67 352.3,239.66 352.8,240.23 353.3,240.16 353.8,240.33 354.3,240.39 354.8,240.42 355.3,240.29 355.8,240.34 356.3,240.83 356.8,240.71 357.3,241.00 357.8,240.92 358.3,241.05 358.8,241.12 359.3,241.12 359.8,241.08 360.3,241.59" fill="none" stroke="#1a1a1a" stroke-width="0.6" stroke-dasharray="1.4 0.9" opacity="0.75"/>
<rect x="230.50" y="152.00" width="144.0" height="106.3" fill="none" stroke="#6a6a6a" stroke-width="1"/>
<line x1="230.70" y1="258.30" x2="230.70" y2="260.30" stroke="#6a6a6a" stroke-width="0.8"/>
<text x="230.70" y="268.00" font-size="7.9" text-anchor="middle" style="stroke-width:0.25px">820</text>
<line x1="243.81" y1="258.30" x2="243.81" y2="259.50" stroke="#6a6a6a" stroke-width="0.8"/>
<line x1="256.92" y1="258.30" x2="256.92" y2="260.30" stroke="#6a6a6a" stroke-width="0.8"/>
<text x="256.92" y="268.00" font-size="7.9" text-anchor="middle" style="stroke-width:0.25px">810</text>
<line x1="270.03" y1="258.30" x2="270.03" y2="259.50" stroke="#6a6a6a" stroke-width="0.8"/>
<line x1="283.14" y1="258.30" x2="283.14" y2="260.30" stroke="#6a6a6a" stroke-width="0.8"/>
<text x="283.14" y="268.00" font-size="7.9" text-anchor="middle" style="stroke-width:0.25px">800</text>
<line x1="296.25" y1="258.30" x2="296.25" y2="259.50" stroke="#6a6a6a" stroke-width="0.8"/>
<line x1="309.36" y1="258.30" x2="309.36" y2="260.30" stroke="#6a6a6a" stroke-width="0.8"/>
<text x="309.36" y="268.00" font-size="7.9" text-anchor="middle" style="stroke-width:0.25px">790</text>
<line x1="322.47" y1="258.30" x2="322.47" y2="259.50" stroke="#6a6a6a" stroke-width="0.8"/>
<line x1="335.58" y1="258.30" x2="335.58" y2="260.30" stroke="#6a6a6a" stroke-width="0.8"/>
<text x="335.58" y="268.00" font-size="7.9" text-anchor="middle" style="stroke-width:0.25px">780</text>
<line x1="348.69" y1="258.30" x2="348.69" y2="259.50" stroke="#6a6a6a" stroke-width="0.8"/>
<line x1="361.80" y1="258.30" x2="361.80" y2="260.30" stroke="#6a6a6a" stroke-width="0.8"/>
<text x="361.80" y="268.00" font-size="7.9" text-anchor="middle" style="stroke-width:0.25px">770</text>
<line x1="292.60" y1="217.50" x2="285.50" y2="217.50" stroke="#111" stroke-width="0.7"/>
<polygon points="282.30,217.50 285.50,216.10 285.50,218.90" fill="#111"/>
<line x1="298.90" y1="217.80" x2="302.70" y2="217.80" stroke="#111" stroke-width="0.7"/>
<polygon points="305.90,217.80 302.70,219.20 302.70,216.40" fill="#111"/>
<line x1="332.90" y1="201.70" x2="327.76" y2="192.49" stroke="#111" stroke-width="0.7"/>
<polygon points="326.20,189.70 328.98,191.81 326.54,193.18" fill="#111"/>
<line x1="337.10" y1="202.40" x2="344.89" y2="193.51" stroke="#111" stroke-width="0.7"/>
<polygon points="347.00,191.10 345.94,194.43 343.84,192.58" fill="#111"/>
<rect x="290.00" y="165.90" width="38.60" height="21.60" fill="#fff" stroke="#b4b4b4" stroke-width="0.9"/>
<rect x="344.00" y="177.60" width="53.30" height="11.00" fill="#fff" stroke="#b4b4b4" stroke-width="0.9"/>
<polyline points="440.4,225.37 440.9,225.46 441.4,225.54 441.9,225.63 442.4,225.71 442.9,225.79 443.4,225.87 443.9,225.95 444.4,226.04 444.9,226.11 445.4,226.19 445.8,226.27 446.3,226.34 446.8,226.42 447.3,226.49 447.8,226.56 448.3,226.62 448.8,226.68 449.3,226.74 449.8,226.80 450.3,226.85 450.8,226.89 451.3,226.93 451.8,226.97 452.3,227.00 452.8,227.02 453.3,227.04 453.8,227.05 454.3,227.05 454.8,227.04 455.3,227.03 455.8,227.00 456.3,226.97 456.7,226.93 457.2,226.88 457.7,226.81 458.2,226.75 458.7,226.67 459.2,226.58 459.7,226.49 460.2,226.38 460.7,226.27 461.2,226.16 461.7,226.04 462.2,225.91 462.7,225.79 463.2,225.66 463.7,225.53 464.2,225.40 464.7,225.28 465.2,225.16 465.7,225.05 466.2,224.94 466.7,224.84 467.1,224.76 467.6,224.68 468.1,224.63 468.6,224.58 469.1,224.55 469.6,224.54 470.1,224.55 470.6,224.58 471.1,224.63 471.6,224.69 472.1,224.78 472.6,224.88 473.1,224.98 473.6,225.10 474.1,225.23 474.6,225.37 475.1,225.52 475.6,225.68 476.1,225.85 476.6,226.02 477.1,226.20 477.6,226.38 478.0,226.56 478.5,226.74 479.0,226.92 479.5,227.09 480.0,227.24 480.5,227.37 481.0,227.48 481.5,227.54 482.0,227.57 482.5,227.54 483.0,227.46 483.5,227.30 484.0,227.05 484.5,226.72 485.0,226.30 485.5,225.77 486.0,225.15 486.5,224.43 487.0,223.63 487.5,222.75 488.0,221.82 488.4,220.86 488.9,219.89 489.4,218.95 489.9,218.07 490.4,217.28 490.9,216.59 491.4,216.00 491.9,215.47 492.4,214.92 492.9,214.28 493.4,213.57 493.9,212.67 494.4,211.58 494.9,210.44 495.4,209.59 495.9,209.43 496.4,210.29 496.9,212.28 497.4,215.24 497.9,218.77 498.4,222.36 498.8,225.58 499.3,228.17 499.8,230.04 500.3,231.28 500.8,232.02 501.3,232.43 501.8,232.62 502.3,232.69 502.8,232.69 503.3,232.64 503.8,232.56 504.3,232.47 504.8,232.37 505.3,232.25 505.8,232.13 506.3,232.00 506.8,231.86 507.3,231.72 507.8,231.58 508.3,231.43 508.8,231.29 509.3,231.14 509.7,231.00 510.2,230.85 510.7,230.71 511.2,230.58 511.7,230.45 512.2,230.32 512.7,230.20 513.2,230.09 513.7,229.99 514.2,229.90 514.7,229.82 515.2,229.75 515.7,229.69 516.2,229.64 516.7,229.61 517.2,229.59 517.7,229.59 518.2,229.60 518.7,229.62 519.2,229.66 519.7,229.71 520.1,229.78 520.6,229.86 521.1,229.95 521.6,230.05 522.1,230.14 522.6,230.22 523.1,230.27 523.6,230.26 524.1,230.17 524.6,229.94 525.1,229.55 525.6,228.94 526.1,228.05 526.6,226.85 527.1,225.30 527.6,223.39 528.1,221.12 528.6,218.55 529.1,215.76 529.6,212.86 530.1,209.97 530.6,207.23 531.0,204.74 531.5,202.56 532.0,200.67 532.5,198.95 533.0,196.98 533.5,194.63 534.0,191.94 534.5,189.15 535.0,186.71 535.5,185.17 536.0,185.09 536.5,186.86 537.0,194.00 537.5,206.80 538.0,219.09 538.5,227.38 539.0,231.97 539.5,234.52 540.0,236.21 540.5,237.53 541.0,238.62 541.4,239.52 541.9,240.27 542.4,240.89 542.9,241.40 543.4,241.82 543.9,242.18 544.4,242.47 544.9,242.72 545.4,242.94 545.9,243.14 546.4,243.31 546.9,243.47 547.4,243.62 547.9,243.76 548.4,243.89 548.9,244.02 549.4,244.14 549.9,244.26 550.4,244.37 550.9,244.48 551.4,244.59 551.9,244.70 552.3,244.80 552.8,244.91 553.3,245.01 553.8,245.11 554.3,245.20 554.8,245.30 555.3,245.40 555.8,245.49 556.3,245.59 556.8,245.68 557.3,245.77" fill="none" stroke="#e83434" stroke-width="1.05"/>
<line x1="440.40" y1="225.40" x2="557.30" y2="245.90" stroke="#a04848" stroke-width="0.9"/>
<polyline points="450.3,226.88 450.8,226.92 451.3,226.97 451.8,227.00 452.3,227.03 452.8,227.06 453.3,227.07 453.8,227.08 454.3,227.08 454.8,227.08 455.3,227.06 455.8,227.04 456.3,227.01 456.7,226.97 457.2,226.92 457.7,226.86 458.2,226.79 458.7,226.71 459.2,226.63 459.7,226.53 460.2,226.43 460.7,226.32 461.2,226.21 461.7,226.09 462.2,225.97 462.7,225.84 463.2,225.72 463.7,225.59 464.2,225.47 464.7,225.34 465.2,225.23 465.7,225.11 466.2,225.01 466.7,224.92 467.1,224.83 467.6,224.76 468.1,224.71 468.6,224.67 469.1,224.64 469.6,224.64 470.1,224.65 470.6,224.68 471.1,224.73 471.6,224.80 472.1,224.89 472.6,224.99 473.1,225.11 473.6,225.23 474.1,225.37 474.6,225.52 475.1,225.68 475.6,225.85 476.1,226.03 476.6,226.22 477.1,226.41 477.6,226.62 478.0,226.83 478.5,227.05 479.0,227.28 479.5,227.51 480.0,227.75 480.5,227.99 481.0,228.24 481.5,228.48 482.0,228.73 482.5,228.98 483.0,229.23 483.5,229.48 484.0,229.73 484.5,229.98 485.0,230.22 485.5,230.47 486.0,230.71 486.5,230.95 487.0,231.18 487.5,231.41 488.0,231.63 488.4,231.86 488.9,232.07 489.4,232.28 489.9,232.49 490.4,232.69 490.9,232.88 491.4,233.07 491.9,233.26 492.4,233.44 492.9,233.61 493.4,233.78 493.9,233.94 494.4,234.10 494.9,234.25 495.4,234.40 495.9,234.55 496.4,234.69 496.9,234.83 497.4,234.96 497.9,235.09 498.4,235.21 498.8,235.34 499.3,235.45 499.8,235.57" fill="none" stroke="#e818d8" stroke-width="0.8"/>
<polyline points="478.5,231.81 479.0,231.85 479.5,231.88 480.0,231.88 480.5,231.86 481.0,231.82 481.5,231.73 482.0,231.60 482.5,231.42 483.0,231.18 483.5,230.86 484.0,230.47 484.5,229.99 485.0,229.42 485.5,228.75 486.0,227.99 486.5,227.14 487.0,226.21 487.5,225.21 488.0,224.17 488.4,223.10 488.9,222.04 489.4,221.01 489.9,220.06 490.4,219.21 490.9,218.51 491.4,217.98 491.9,217.66 492.4,217.55 492.9,217.73 493.4,218.33 493.9,219.31 494.4,220.61 494.9,222.13 495.4,223.78 495.9,225.46 496.4,227.11 496.9,228.65 497.4,230.05 497.9,231.27 498.4,232.32 498.8,233.19 499.3,233.89 499.8,234.46 500.3,234.90 500.8,235.25 501.3,235.53 501.8,235.75 502.3,235.93 502.8,236.08" fill="none" stroke="#38b030" stroke-width="0.8"/>
<polyline points="491.9,233.99 492.4,233.59 492.9,232.84 493.4,231.60 493.9,229.80 494.4,227.50 494.9,224.95 495.4,222.57 495.9,220.84 496.4,220.19 496.9,220.79 497.4,222.51 497.9,224.98 498.4,227.71 498.8,230.25 499.3,232.33 499.8,233.85 500.3,234.86 500.8,235.48" fill="none" stroke="#2838c8" stroke-width="0.8"/>
<polyline points="488.4,233.57 488.9,233.63 489.4,233.68 489.9,233.73 490.4,233.78 490.9,233.83 491.4,233.86 491.9,233.90 492.4,233.93 492.9,233.96 493.4,233.98 493.9,233.99 494.4,234.00 494.9,234.01 495.4,234.00 495.9,234.00 496.4,233.98 496.9,233.96 497.4,233.93 497.9,233.89 498.4,233.85 498.8,233.80 499.3,233.74 499.8,233.68 500.3,233.61 500.8,233.53 501.3,233.44 501.8,233.35 502.3,233.25 502.8,233.14 503.3,233.02 503.8,232.90 504.3,232.78 504.8,232.64 505.3,232.51 505.8,232.37 506.3,232.22 506.8,232.08 507.3,231.93 507.8,231.78 508.3,231.62 508.8,231.47 509.3,231.32 509.7,231.17 510.2,231.03 510.7,230.88 511.2,230.75 511.7,230.62 512.2,230.49 512.7,230.37 513.2,230.27 513.7,230.17 514.2,230.08 514.7,230.00 515.2,229.94 515.7,229.88 516.2,229.84 516.7,229.82 517.2,229.81 517.7,229.82 518.2,229.84 518.7,229.88 519.2,229.93 519.7,230.00 520.1,230.09 520.6,230.20 521.1,230.33 521.6,230.48 522.1,230.66 522.6,230.85 523.1,231.07 523.6,231.30 524.1,231.55 524.6,231.82 525.1,232.11 525.6,232.41 526.1,232.72 526.6,233.04 527.1,233.38 527.6,233.72 528.1,234.07 528.6,234.42 529.1,234.78 529.6,235.14 530.1,235.51 530.6,235.87 531.0,236.23 531.5,236.59 532.0,236.94 532.5,237.29 533.0,237.64 533.5,237.97 534.0,238.31 534.5,238.63 535.0,238.94 535.5,239.25 536.0,239.54 536.5,239.83 537.0,240.11 537.5,240.37 538.0,240.63 538.5,240.88 539.0,241.11 539.5,241.34 540.0,241.56 540.5,241.77 541.0,241.97 541.4,242.16 541.9,242.34 542.4,242.52 542.9,242.68 543.4,242.84 543.9,243.00 544.4,243.15 544.9,243.29 545.4,243.43 545.9,243.56 546.4,243.69 546.9,243.81" fill="none" stroke="#9a38e0" stroke-width="0.8"/>
<polyline points="519.7,239.04 520.1,239.10 520.6,239.16 521.1,239.21 521.6,239.24 522.1,239.24 522.6,239.21 523.1,239.13 523.6,238.98 524.1,238.71 524.6,238.31 525.1,237.72 525.6,236.89 526.1,235.78 526.6,234.35 527.1,232.55 527.6,230.38 528.1,227.86 528.6,225.03 529.1,221.99 529.6,218.86 530.1,215.81 530.6,213.03 531.0,210.72 531.5,209.06 532.0,208.21 532.5,208.21 533.0,208.83 533.5,209.96 534.0,211.57 534.5,213.55 535.0,215.83 535.5,218.31 536.0,220.89 536.5,223.49 537.0,226.03 537.5,228.46 538.0,230.71 538.5,232.76 539.0,234.59 539.5,236.18 540.0,237.56 540.5,238.72 541.0,239.70 541.4,240.50 541.9,241.15 542.4,241.68 542.9,242.11 543.4,242.46 543.9,242.74 544.4,242.97 544.9,243.17 545.4,243.34 545.9,243.49 546.4,243.62 546.9,243.75 547.4,243.86 547.9,243.97 548.4,244.08" fill="none" stroke="#9a38e0" stroke-width="0.8"/>
<polyline points="530.6,240.76 531.0,240.40 531.5,239.69 532.0,238.48 532.5,236.57 533.0,233.82 533.5,230.16 534.0,225.71 534.5,220.79 535.0,215.93 535.5,211.78 536.0,208.99 536.5,208.05 537.0,212.55 537.5,222.84 538.0,232.79 538.5,238.96 539.0,241.66" fill="none" stroke="#c86070" stroke-width="0.8"/>
<polyline points="440.4,224.99 440.9,224.76 441.4,225.21 441.9,225.07 442.4,225.11 442.9,225.30 443.4,225.16 443.9,225.25 444.4,225.45 444.9,225.43 445.4,225.73 445.8,225.68 446.3,225.74 446.8,225.76 447.3,225.80 447.8,226.11 448.3,226.27 448.8,226.06 449.3,226.34 449.8,226.15 450.3,226.43 450.8,226.21 451.3,226.42 451.8,226.37 452.3,226.63 452.8,226.60 453.3,226.29 453.8,226.30 454.3,226.48 454.8,226.35 455.3,226.34 455.8,226.68 456.3,226.64 456.7,226.14 457.2,226.09 457.7,226.33 458.2,226.42 458.7,226.31 459.2,226.13 459.7,226.06 460.2,225.82 460.7,225.72 461.2,225.79 461.7,225.29 462.2,225.46 462.7,225.35 463.2,224.94 463.7,225.12 464.2,224.69 464.7,224.96 465.2,224.74 465.7,224.47 466.2,224.43 466.7,224.53 467.1,224.14 467.6,223.99 468.1,224.17 468.6,224.23 469.1,223.83 469.6,224.13 470.1,223.95 470.6,224.12 471.1,224.07 471.6,224.37 472.1,224.27 472.6,224.56 473.1,224.67 473.6,224.37 474.1,224.90 474.6,224.95 475.1,224.79 475.6,225.17 476.1,225.18 476.6,225.24 477.1,225.43 477.6,225.76 478.0,226.20 478.5,225.98 479.0,226.41 479.5,226.72 480.0,226.62 480.5,226.93 481.0,226.97 481.5,227.13 482.0,227.01 482.5,227.24 483.0,226.86 483.5,226.60 484.0,226.31 484.5,226.05 485.0,225.56 485.5,225.44 486.0,224.42 486.5,224.05 487.0,223.21 487.5,222.18 488.0,221.04 488.4,220.16 488.9,219.56 489.4,218.36 489.9,217.66 490.4,216.54 490.9,215.81 491.4,215.38 491.9,214.85 492.4,214.23 492.9,213.80 493.4,213.05 493.9,212.15 494.4,210.93 494.9,209.85 495.4,208.93 495.9,208.91 496.4,209.68 496.9,211.80 497.4,214.92 497.9,218.13 498.4,221.86 498.8,224.83 499.3,227.78 499.8,229.51 500.3,230.77 500.8,231.50 501.3,231.69 501.8,232.26 502.3,231.90 502.8,231.98 503.3,232.08 503.8,232.23 504.3,232.02 504.8,232.02 505.3,231.62 505.8,231.60 506.3,231.50 506.8,231.18 507.3,230.97 507.8,230.95 508.3,230.68 508.8,230.49 509.3,230.43 509.7,230.63 510.2,230.36 510.7,230.29 511.2,230.06 511.7,229.89 512.2,229.97 512.7,229.57 513.2,229.42 513.7,229.34 514.2,229.14 514.7,229.03 515.2,229.08 515.7,229.21 516.2,228.94 516.7,229.05 517.2,228.94 517.7,229.16 518.2,228.92 518.7,229.05 519.2,229.24 519.7,229.27 520.1,229.43 520.6,229.07 521.1,229.38 521.6,229.34 522.1,229.79 522.6,229.55 523.1,229.87 523.6,229.72 524.1,229.75 524.6,229.54 525.1,229.18 525.6,228.58 526.1,227.46 526.6,226.39 527.1,224.96 527.6,222.99 528.1,220.55 528.6,218.17 529.1,215.35 529.6,212.28 530.1,209.39 530.6,206.64 531.0,204.41 531.5,201.88 532.0,200.35 532.5,198.22 533.0,196.31 533.5,194.20 534.0,191.49 534.5,188.50 535.0,186.06 535.5,184.65 536.0,184.67 536.5,186.25 537.0,193.44 537.5,206.22 538.0,218.71 538.5,227.03 539.0,231.48 539.5,233.85 540.0,235.62 540.5,236.94 541.0,238.13 541.4,238.88 541.9,239.78 542.4,240.35 542.9,240.87 543.4,241.51 543.9,241.58 544.4,241.80 544.9,241.93 545.4,242.15 545.9,242.68 546.4,242.96 546.9,243.01 547.4,242.93 547.9,242.98 548.4,243.32 548.9,243.25 549.4,243.38 549.9,243.77 550.4,243.65 550.9,243.93 551.4,244.22 551.9,244.14 552.3,244.20 552.8,244.36 553.3,244.67 553.8,244.40 554.3,244.76 554.8,244.62 555.3,244.91 555.8,244.71 556.3,244.81 556.8,244.99 557.3,245.33" fill="none" stroke="#1a1a1a" stroke-width="0.6" stroke-dasharray="1.4 0.9" opacity="0.75"/>
<rect x="428.60" y="152.00" width="144.0" height="106.3" fill="none" stroke="#6a6a6a" stroke-width="1"/>
<line x1="428.80" y1="258.30" x2="428.80" y2="260.30" stroke="#6a6a6a" stroke-width="0.8"/>
<text x="428.80" y="268.00" font-size="7.9" text-anchor="middle" style="stroke-width:0.25px">820</text>
<line x1="441.91" y1="258.30" x2="441.91" y2="259.50" stroke="#6a6a6a" stroke-width="0.8"/>
<line x1="455.02" y1="258.30" x2="455.02" y2="260.30" stroke="#6a6a6a" stroke-width="0.8"/>
<text x="455.02" y="268.00" font-size="7.9" text-anchor="middle" style="stroke-width:0.25px">810</text>
<line x1="468.13" y1="258.30" x2="468.13" y2="259.50" stroke="#6a6a6a" stroke-width="0.8"/>
<line x1="481.24" y1="258.30" x2="481.24" y2="260.30" stroke="#6a6a6a" stroke-width="0.8"/>
<text x="481.24" y="268.00" font-size="7.9" text-anchor="middle" style="stroke-width:0.25px">800</text>
<line x1="494.35" y1="258.30" x2="494.35" y2="259.50" stroke="#6a6a6a" stroke-width="0.8"/>
<line x1="507.46" y1="258.30" x2="507.46" y2="260.30" stroke="#6a6a6a" stroke-width="0.8"/>
<text x="507.46" y="268.00" font-size="7.9" text-anchor="middle" style="stroke-width:0.25px">790</text>
<line x1="520.57" y1="258.30" x2="520.57" y2="259.50" stroke="#6a6a6a" stroke-width="0.8"/>
<line x1="533.68" y1="258.30" x2="533.68" y2="260.30" stroke="#6a6a6a" stroke-width="0.8"/>
<text x="533.68" y="268.00" font-size="7.9" text-anchor="middle" style="stroke-width:0.25px">780</text>
<line x1="546.79" y1="258.30" x2="546.79" y2="259.50" stroke="#6a6a6a" stroke-width="0.8"/>
<line x1="559.90" y1="258.30" x2="559.90" y2="260.30" stroke="#6a6a6a" stroke-width="0.8"/>
<text x="559.90" y="268.00" font-size="7.9" text-anchor="middle" style="stroke-width:0.25px">770</text>
<line x1="491.50" y1="223.90" x2="484.60" y2="223.90" stroke="#111" stroke-width="0.7"/>
<polygon points="481.40,223.90 484.60,222.50 484.60,225.30" fill="#111"/>
<line x1="498.30" y1="223.90" x2="501.50" y2="223.90" stroke="#111" stroke-width="0.7"/>
<polygon points="504.70,223.90 501.50,225.30 501.50,222.50" fill="#111"/>
<line x1="532.10" y1="209.00" x2="526.33" y2="198.41" stroke="#111" stroke-width="0.7"/>
<polygon points="524.80,195.60 527.56,197.74 525.10,199.08" fill="#111"/>
<line x1="535.70" y1="209.70" x2="543.63" y2="199.52" stroke="#111" stroke-width="0.7"/>
<polygon points="545.60,197.00 544.74,200.38 542.53,198.66" fill="#111"/>
<rect x="490.20" y="169.50" width="38.40" height="21.40" fill="#fff" stroke="#b4b4b4" stroke-width="0.9"/>
<rect x="541.20" y="183.30" width="53.50" height="11.00" fill="#fff" stroke="#b4b4b4" stroke-width="0.9"/>
<text x="0.50" y="9.80" font-size="12">(a)</text>
<text transform="translate(23.20,57.55) rotate(-90)" font-size="8.75" text-anchor="middle" style="stroke-width:0.28px">Intensity (counts/sec)</text>
<text x="106.30" y="132.00" font-size="8.7" text-anchor="middle" style="stroke-width:0.28px">Binding energy (eV)</text>
<text x="37.00" y="11.70" font-size="6.2">Calcined at 300 <tspan font-size="5">°</tspan>C : Co<tspan class="ss" font-size="4.2" dy="2">3</tspan><tspan dy="-2">O</tspan><tspan class="ss" font-size="4.2" dy="2">4</tspan></text>
<text x="177.10" y="12.00" font-size="6.3" text-anchor="end">Co 2p</text>
<text x="38.80" y="104.00" font-size="6.2">Before the 1000th CV cycling</text>
<text x="99.10" y="27.70" font-size="6.3">Co<tspan class="ss" font-size="3.7" dy="-3.0">2+</tspan></text>
<text x="99.10" y="35.30" font-size="6.3">781.08 eV</text>
<text x="153.10" y="39.00" font-size="6.3">Co<tspan class="ss" font-size="3.7" dy="-3.0">3+</tspan><tspan dy="3.0"> 779.68 eV</tspan></text>
<text x="135.10" y="22.40" font-size="6.3">Co 2p<tspan class="ss" font-size="3.6" dy="1.6">3/2</tspan></text>
<text x="89.50" y="50.80" font-size="6.3">Co 2p<tspan class="ss" font-size="3.6" dy="1.6">1/2</tspan></text>
<text x="74.20" y="70.10" font-size="6.3">Co<tspan class="ss" font-size="3.7" dy="-3.0">2+</tspan></text>
<text x="111.20" y="71.50" font-size="6.3">Co<tspan class="ss" font-size="3.7" dy="-3.0">3+</tspan></text>
<text x="196.70" y="9.80" font-size="12">(b)</text>
<text transform="translate(219.40,57.55) rotate(-90)" font-size="8.75" text-anchor="middle" style="stroke-width:0.28px">Intensity (counts/sec)</text>
<text x="302.50" y="132.00" font-size="8.7" text-anchor="middle" style="stroke-width:0.28px">Binding energy (eV)</text>
<text x="233.20" y="11.70" font-size="6.2">Calcined at 400 <tspan font-size="5">°</tspan>C : Co<tspan class="ss" font-size="4.2" dy="2">3</tspan><tspan dy="-2">O</tspan><tspan class="ss" font-size="4.2" dy="2">4</tspan></text>
<text x="373.30" y="12.00" font-size="6.3" text-anchor="end">Co 2p</text>
<text x="235.00" y="104.00" font-size="6.2">Before the 1000th CV cycling</text>
<text x="295.60" y="39.70" font-size="6.3">Co<tspan class="ss" font-size="3.7" dy="-3.0">2+</tspan></text>
<text x="295.60" y="47.30" font-size="6.3">781.08 eV</text>
<text x="346.60" y="48.60" font-size="6.3">Co<tspan class="ss" font-size="3.7" dy="-3.0">3+</tspan><tspan dy="3.0"> 779.68 eV</tspan></text>
<text x="331.60" y="31.00" font-size="6.3">Co 2p<tspan class="ss" font-size="3.6" dy="1.6">3/2</tspan></text>
<text x="284.10" y="58.80" font-size="6.3">Co 2p<tspan class="ss" font-size="3.6" dy="1.6">1/2</tspan></text>
<text x="273.10" y="72.30" font-size="6.3">Co<tspan class="ss" font-size="3.7" dy="-3.0">2+</tspan></text>
<text x="303.90" y="72.30" font-size="6.3">Co<tspan class="ss" font-size="3.7" dy="-3.0">3+</tspan></text>
<text x="394.80" y="9.80" font-size="12">(c)</text>
<text transform="translate(417.50,57.55) rotate(-90)" font-size="8.75" text-anchor="middle" style="stroke-width:0.28px">Intensity (counts/sec)</text>
<text x="500.60" y="132.00" font-size="8.7" text-anchor="middle" style="stroke-width:0.28px">Binding energy (eV)</text>
<text x="431.30" y="11.70" font-size="6.2">Calcined at 500 <tspan font-size="5">°</tspan>C : Co<tspan class="ss" font-size="4.2" dy="2">3</tspan><tspan dy="-2">O</tspan><tspan class="ss" font-size="4.2" dy="2">4</tspan></text>
<text x="571.40" y="12.00" font-size="6.3" text-anchor="end">Co 2p</text>
<text x="433.10" y="104.00" font-size="6.2">Before the 1000th CV cycling</text>
<text x="487.60" y="32.70" font-size="6.3">Co<tspan class="ss" font-size="3.7" dy="-3.0">2+</tspan></text>
<text x="487.60" y="40.30" font-size="6.3">781.18 eV</text>
<text x="550.70" y="44.50" font-size="6.3">Co<tspan class="ss" font-size="3.7" dy="-3.0">3+</tspan><tspan dy="3.0"> 779.68 eV</tspan></text>
<text x="527.00" y="23.80" font-size="6.3">Co 2p<tspan class="ss" font-size="3.6" dy="1.6">3/2</tspan></text>
<text x="482.80" y="52.80" font-size="6.3">Co 2p<tspan class="ss" font-size="3.6" dy="1.6">1/2</tspan></text>
<text x="470.20" y="62.80" font-size="6.3">Co<tspan class="ss" font-size="3.7" dy="-3.0">2+</tspan></text>
<text x="503.30" y="64.50" font-size="6.3">Co<tspan class="ss" font-size="3.7" dy="-3.0">3+</tspan></text>
<text x="0.50" y="157.20" font-size="12">(d)</text>
<text transform="translate(23.20,206.15) rotate(-90)" font-size="8.75" text-anchor="middle" style="stroke-width:0.28px">Intensity (counts/sec)</text>
<text x="106.30" y="280.60" font-size="8.7" text-anchor="middle" style="stroke-width:0.28px">Binding energy (eV)</text>
<text x="37.00" y="160.30" font-size="6.2">Calcined at 300 <tspan font-size="5">°</tspan>C : Co<tspan class="ss" font-size="4.2" dy="2">3</tspan><tspan dy="-2">O</tspan><tspan class="ss" font-size="4.2" dy="2">4</tspan></text>
<text x="177.10" y="160.60" font-size="6.3" text-anchor="end">Co 2p</text>
<text x="38.80" y="252.60" font-size="6.2">After the 1000th CV cycling</text>
<text x="99.00" y="176.10" font-size="6.3">Co<tspan class="ss" font-size="3.7" dy="-3.0">2+</tspan></text>
<text x="99.00" y="183.70" font-size="6.3">780.38 eV</text>
<text x="152.60" y="187.50" font-size="6.3">Co<tspan class="ss" font-size="3.7" dy="-3.0">3+</tspan><tspan dy="3.0"> 779.08 eV</tspan></text>
<text x="135.20" y="170.60" font-size="6.3">Co 2p<tspan class="ss" font-size="3.6" dy="1.6">3/2</tspan></text>
<text x="89.50" y="199.20" font-size="6.3">Co 2p<tspan class="ss" font-size="3.6" dy="1.6">1/2</tspan></text>
<text x="75.80" y="217.00" font-size="6.3">Co<tspan class="ss" font-size="3.7" dy="-3.0">2+</tspan></text>
<text x="111.90" y="219.80" font-size="6.3">Co<tspan class="ss" font-size="3.7" dy="-3.0">3+</tspan></text>
<text x="196.70" y="157.20" font-size="12">(e)</text>
<text transform="translate(219.40,206.15) rotate(-90)" font-size="8.75" text-anchor="middle" style="stroke-width:0.28px">Intensity (counts/sec)</text>
<text x="302.50" y="280.60" font-size="8.7" text-anchor="middle" style="stroke-width:0.28px">Binding energy (eV)</text>
<text x="233.20" y="160.30" font-size="6.2">Calcined at 400 <tspan font-size="5">°</tspan>C : Co<tspan class="ss" font-size="4.2" dy="2">3</tspan><tspan dy="-2">O</tspan><tspan class="ss" font-size="4.2" dy="2">4</tspan></text>
<text x="373.30" y="160.60" font-size="6.3" text-anchor="end">Co 2p</text>
<text x="235.00" y="252.60" font-size="6.2">After the 1000th CV cycling</text>
<text x="295.10" y="176.10" font-size="6.3">Co<tspan class="ss" font-size="3.7" dy="-3.0">2+</tspan></text>
<text x="295.10" y="183.70" font-size="6.3">780.48 eV</text>
<text x="349.30" y="185.80" font-size="6.3">Co<tspan class="ss" font-size="3.7" dy="-3.0">3+</tspan><tspan dy="3.0"> 779.28 eV</tspan></text>
<text x="331.20" y="170.60" font-size="6.3">Co 2p<tspan class="ss" font-size="3.6" dy="1.6">3/2</tspan></text>
<text x="285.60" y="199.20" font-size="6.3">Co 2p<tspan class="ss" font-size="3.6" dy="1.6">1/2</tspan></text>
<text x="272.20" y="217.20" font-size="6.3">Co<tspan class="ss" font-size="3.7" dy="-3.0">2+</tspan></text>
<text x="307.80" y="220.60" font-size="6.3">Co<tspan class="ss" font-size="3.7" dy="-3.0">3+</tspan></text>
<text x="394.80" y="157.20" font-size="12">(f)</text>
<text transform="translate(417.50,206.15) rotate(-90)" font-size="8.75" text-anchor="middle" style="stroke-width:0.28px">Intensity (counts/sec)</text>
<text x="500.60" y="280.60" font-size="8.7" text-anchor="middle" style="stroke-width:0.28px">Binding energy (eV)</text>
<text x="431.30" y="160.30" font-size="6.2">Calcined at 500 <tspan font-size="5">°</tspan>C : Co<tspan class="ss" font-size="4.2" dy="2">3</tspan><tspan dy="-2">O</tspan><tspan class="ss" font-size="4.2" dy="2">4</tspan></text>
<text x="571.40" y="160.60" font-size="6.3" text-anchor="end">Co 2p</text>
<text x="433.10" y="252.60" font-size="6.2">After the 1000th CV cycling</text>
<text x="495.30" y="179.20" font-size="6.3">Co<tspan class="ss" font-size="3.7" dy="-3.0">2+</tspan></text>
<text x="495.30" y="186.80" font-size="6.3">780.38 eV</text>
<text x="546.50" y="191.50" font-size="6.3">Co<tspan class="ss" font-size="3.7" dy="-3.0">3+</tspan><tspan dy="3.0"> 779.18 eV</tspan></text>
<text x="531.50" y="175.90" font-size="6.3">Co 2p<tspan class="ss" font-size="3.6" dy="1.6">3/2</tspan></text>
<text x="484.30" y="202.60" font-size="6.3">Co 2p<tspan class="ss" font-size="3.6" dy="1.6">1/2</tspan></text>
<text x="471.50" y="221.80" font-size="6.3">Co<tspan class="ss" font-size="3.7" dy="-3.0">2+</tspan></text>
<text x="506.10" y="225.10" font-size="6.3">Co<tspan class="ss" font-size="3.7" dy="-3.0">3+</tspan></text>
</svg>
</body></html>
